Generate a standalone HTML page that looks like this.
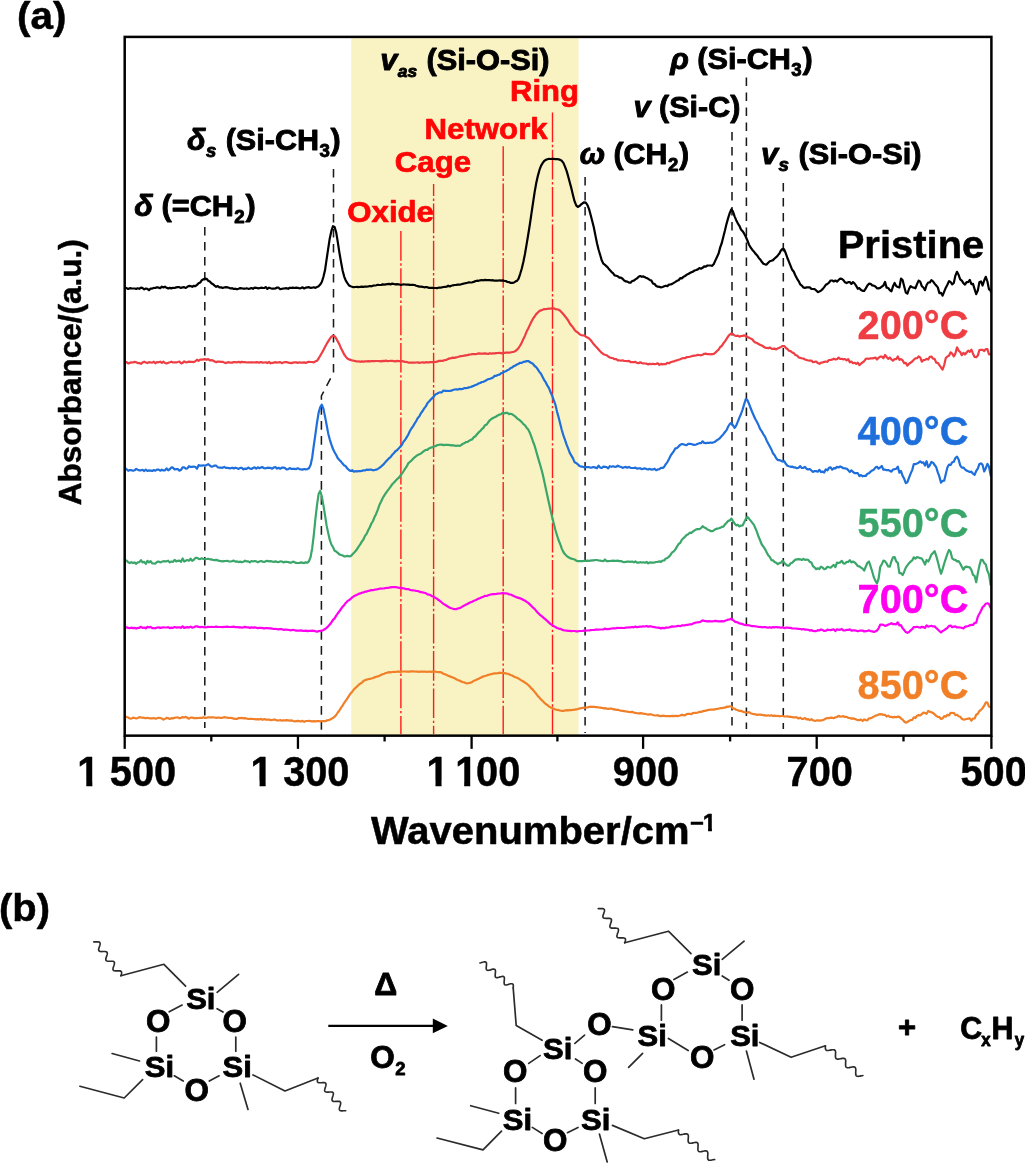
<!DOCTYPE html>
<html lang="en">
<head>
<meta charset="utf-8">
<title>FTIR spectra and reaction scheme</title>
<style>
html,body{margin:0;padding:0;background:#fff;}
svg{display:block;font-family:"Liberation Sans", Arial, Helvetica, sans-serif;}
</style>
</head>
<body>
<svg width="1025" height="1166" viewBox="0 0 1025 1166">
<rect width="1025" height="1166" fill="#fff"/>
<rect x="351.2" y="36.9" width="227.4" height="698.75" fill="#f9f3c4"/>
<line x1="204.8" y1="227" x2="204.8" y2="728" stroke="#1a1a1a" stroke-width="1.55" stroke-dasharray="8.6 6.4" stroke-dashoffset="0"/>
<path d="M333.5 169 L333.5 372.7 L321.4 396 L321.4 733" fill="none" stroke="#1a1a1a" stroke-width="1.55" stroke-dasharray="8.6 6.4"/>
<line x1="585.1" y1="177" x2="585.1" y2="733" stroke="#1a1a1a" stroke-width="1.55" stroke-dasharray="8.6 6.4" stroke-dashoffset="0"/>
<line x1="732.0" y1="132" x2="732.0" y2="729" stroke="#1a1a1a" stroke-width="1.55" stroke-dasharray="8.6 6.4" stroke-dashoffset="0"/>
<line x1="746.4" y1="77.5" x2="746.4" y2="729" stroke="#1a1a1a" stroke-width="1.55" stroke-dasharray="8.6 6.4" stroke-dashoffset="0"/>
<line x1="783.3" y1="183" x2="783.3" y2="729" stroke="#1a1a1a" stroke-width="1.55" stroke-dasharray="8.6 6.4" stroke-dashoffset="0"/>
<line x1="400.9" y1="231" x2="400.9" y2="734" stroke="#ff1a1a" stroke-width="1.4" stroke-dasharray="29.7 2.6 2.4 2.6" stroke-dashoffset="0"/>
<line x1="433.6" y1="184" x2="433.6" y2="734" stroke="#ff1a1a" stroke-width="1.4" stroke-dasharray="29.7 2.6 2.4 2.6" stroke-dashoffset="17.8"/>
<line x1="503.2" y1="146.2" x2="503.2" y2="734" stroke="#ff1a1a" stroke-width="1.4" stroke-dasharray="29.7 2.6 2.4 2.6" stroke-dashoffset="0"/>
<line x1="552.5" y1="112.5" x2="552.5" y2="734" stroke="#ff1a1a" stroke-width="1.4" stroke-dasharray="29.7 2.6 2.4 2.6" stroke-dashoffset="0"/>
<path d="M125.0 716.5 L126.6 717.0 L128.2 717.5 L129.8 718.5 L131.4 718.6 L133.0 717.7 L134.6 718.0 L136.2 718.5 L137.8 718.0 L139.4 717.1 L141.0 717.5 L142.6 717.7 L144.2 717.9 L145.8 718.3 L147.4 717.8 L149.0 718.2 L150.6 718.3 L152.2 718.3 L153.8 718.0 L155.4 718.6 L157.0 718.3 L158.6 717.8 L160.2 718.0 L161.8 718.5 L163.4 719.6 L165.0 718.9 L166.6 717.9 L168.2 718.2 L169.8 719.0 L171.4 718.1 L173.0 718.4 L174.6 717.8 L176.2 717.5 L177.8 717.4 L179.4 718.3 L181.0 717.9 L182.6 717.1 L184.2 717.5 L185.8 716.9 L187.4 717.7 L189.0 718.7 L190.6 717.6 L192.2 717.5 L193.8 718.1 L195.4 718.1 L197.0 718.1 L198.6 718.0 L200.2 717.8 L201.8 718.0 L203.4 717.2 L205.0 717.9 L206.6 717.8 L208.2 717.3 L209.8 717.3 L211.4 717.3 L213.0 717.4 L214.6 717.5 L216.2 717.8 L217.8 717.7 L219.4 717.6 L221.0 718.0 L222.6 717.6 L224.2 717.2 L225.8 717.5 L227.4 717.6 L229.0 718.0 L230.6 717.8 L232.2 718.1 L233.8 718.7 L235.4 718.9 L237.0 718.9 L238.6 718.1 L240.2 718.1 L241.8 717.9 L243.4 718.3 L245.0 718.1 L246.6 718.5 L248.2 719.0 L249.8 718.8 L251.4 718.8 L253.0 719.0 L254.6 719.1 L256.2 719.3 L257.8 719.1 L259.4 719.5 L261.0 718.8 L262.6 719.9 L264.2 719.0 L265.8 719.7 L267.4 719.7 L269.0 719.5 L270.6 720.1 L272.2 720.0 L273.8 719.7 L275.4 719.7 L277.0 720.4 L278.6 720.5 L280.2 720.0 L281.8 720.7 L283.4 720.4 L285.0 720.3 L286.6 720.2 L288.2 720.4 L289.8 720.6 L291.4 720.3 L293.0 721.0 L294.6 721.3 L296.2 721.1 L297.8 720.9 L299.4 721.1 L301.0 721.5 L302.6 720.9 L304.2 721.9 L305.8 721.0 L307.4 721.0 L309.0 720.9 L310.6 721.1 L312.2 721.4 L313.8 721.2 L315.4 721.3 L317.0 721.2 L318.6 721.2 L320.2 721.3 L321.8 721.1 L323.4 721.2 L325.0 721.2 L326.6 720.6 L328.2 720.1 L329.8 719.7 L331.4 718.8 L333.0 718.0 L334.6 716.7 L336.2 715.0 L337.8 712.5 L339.4 710.4 L341.0 707.9 L342.6 705.7 L344.2 702.8 L345.8 700.6 L347.4 698.4 L349.0 695.8 L350.6 693.4 L352.2 691.7 L353.8 689.6 L355.4 687.9 L357.0 686.6 L358.6 684.9 L360.2 683.6 L361.8 682.7 L363.4 681.1 L365.0 680.3 L366.6 679.6 L368.2 679.2 L369.8 678.8 L371.4 678.5 L373.0 678.0 L374.6 677.4 L376.2 676.8 L377.8 676.4 L379.4 675.7 L381.0 674.9 L382.6 674.3 L384.2 673.7 L385.8 673.0 L387.4 672.7 L389.0 672.1 L390.6 672.3 L392.2 672.0 L393.8 671.8 L395.4 672.0 L397.0 671.7 L398.6 671.6 L400.2 671.8 L401.8 671.6 L403.4 671.5 L405.0 671.5 L406.6 671.6 L408.2 671.7 L409.8 671.6 L411.4 671.4 L413.0 671.4 L414.6 671.5 L416.2 671.6 L417.8 671.5 L419.4 671.8 L421.0 671.5 L422.6 671.7 L424.2 671.5 L425.8 671.7 L427.4 671.8 L429.0 671.5 L430.6 671.8 L432.2 671.7 L433.8 671.7 L435.4 671.7 L437.0 672.0 L438.6 672.1 L440.2 672.1 L441.8 672.8 L443.4 673.7 L445.0 674.3 L446.6 675.1 L448.2 675.8 L449.8 676.4 L451.4 676.9 L453.0 677.6 L454.6 678.2 L456.2 679.3 L457.8 680.0 L459.4 680.6 L461.0 681.4 L462.6 682.0 L464.2 682.4 L465.8 683.1 L467.4 683.3 L469.0 683.0 L470.6 682.7 L472.2 681.9 L473.8 680.8 L475.4 680.3 L477.0 679.5 L478.6 678.8 L480.2 677.9 L481.8 677.3 L483.4 676.3 L485.0 676.0 L486.6 675.5 L488.2 674.9 L489.8 674.5 L491.4 674.1 L493.0 673.7 L494.6 673.4 L496.2 673.3 L497.8 673.1 L499.4 672.7 L501.0 672.9 L502.6 673.0 L504.2 673.1 L505.8 673.4 L507.4 673.8 L509.0 674.3 L510.6 675.0 L512.2 675.5 L513.8 676.5 L515.4 677.2 L517.0 677.8 L518.6 678.6 L520.2 679.6 L521.8 680.7 L523.4 681.5 L525.0 682.6 L526.6 683.7 L528.2 685.0 L529.8 686.6 L531.4 688.4 L533.0 689.9 L534.6 691.9 L536.2 693.8 L537.8 695.9 L539.4 697.6 L541.0 699.5 L542.6 700.9 L544.2 702.6 L545.8 704.0 L547.4 705.1 L549.0 706.5 L550.6 707.4 L552.2 708.1 L553.8 708.8 L555.4 709.5 L557.0 709.8 L558.6 710.1 L560.2 710.5 L561.8 710.8 L563.4 710.9 L565.0 710.5 L566.6 710.2 L568.2 710.3 L569.8 710.1 L571.4 710.2 L573.0 709.8 L574.6 709.6 L576.2 709.3 L577.8 709.1 L579.4 708.4 L581.0 708.3 L582.6 707.8 L584.2 707.6 L585.8 707.6 L587.4 707.4 L589.0 707.0 L590.6 706.7 L592.2 707.0 L593.8 706.7 L595.4 707.1 L597.0 707.0 L598.6 707.5 L600.2 707.6 L601.8 707.9 L603.4 708.3 L605.0 708.1 L606.6 708.6 L608.2 708.8 L609.8 708.7 L611.4 708.6 L613.0 709.3 L614.6 709.2 L616.2 710.0 L617.8 709.7 L619.4 710.3 L621.0 710.6 L622.6 710.8 L624.2 711.1 L625.8 711.5 L627.4 711.7 L629.0 712.0 L630.6 712.1 L632.2 711.8 L633.8 712.6 L635.4 712.8 L637.0 713.2 L638.6 713.5 L640.2 713.2 L641.8 713.4 L643.4 713.7 L645.0 713.8 L646.6 714.2 L648.2 714.6 L649.8 714.2 L651.4 714.5 L653.0 715.0 L654.6 715.3 L656.2 715.5 L657.8 715.2 L659.4 715.9 L661.0 716.2 L662.6 715.7 L664.2 715.9 L665.8 716.1 L667.4 716.2 L669.0 716.1 L670.6 716.2 L672.2 715.9 L673.8 716.1 L675.4 715.7 L677.0 716.1 L678.6 715.8 L680.2 715.5 L681.8 714.8 L683.4 715.1 L685.0 715.4 L686.6 714.2 L688.2 713.9 L689.8 713.8 L691.4 714.2 L693.0 713.0 L694.6 712.8 L696.2 712.8 L697.8 712.5 L699.4 711.9 L701.0 711.9 L702.6 711.4 L704.2 710.9 L705.8 710.8 L707.4 710.1 L709.0 709.8 L710.6 709.7 L712.2 709.7 L713.8 709.7 L715.4 709.1 L717.0 708.9 L718.6 708.6 L720.2 708.2 L721.8 708.1 L723.4 707.7 L725.0 707.7 L726.6 706.7 L728.2 706.8 L729.8 706.4 L731.4 706.5 L733.0 708.2 L734.6 708.8 L736.2 709.8 L737.8 710.2 L739.4 710.9 L741.0 710.8 L742.6 711.6 L744.2 712.1 L745.8 712.5 L747.4 712.4 L749.0 712.1 L750.6 713.2 L752.2 713.7 L753.8 714.2 L755.4 714.3 L757.0 714.9 L758.6 714.5 L760.2 714.6 L761.8 714.8 L763.4 715.3 L765.0 715.2 L766.6 715.8 L768.2 715.3 L769.8 715.7 L771.4 715.2 L773.0 716.0 L774.6 715.6 L776.2 716.0 L777.8 715.9 L779.4 716.3 L781.0 716.0 L782.6 716.0 L784.2 716.5 L785.8 716.5 L787.4 716.4 L789.0 716.8 L790.6 716.7 L792.2 717.2 L793.8 717.4 L795.4 717.4 L797.0 717.3 L798.6 718.5 L800.2 717.7 L801.8 718.8 L803.4 718.9 L805.0 718.0 L806.6 719.5 L808.2 719.1 L809.8 720.1 L811.4 719.2 L813.0 720.2 L814.6 720.8 L816.2 720.6 L817.8 720.2 L819.4 720.6 L821.0 720.3 L822.6 720.1 L824.2 719.5 L825.8 718.5 L827.4 718.0 L829.0 718.2 L830.6 717.6 L832.2 717.8 L833.8 718.2 L835.4 717.3 L837.0 717.0 L838.6 715.8 L840.2 716.7 L841.8 716.5 L843.4 716.2 L845.0 716.9 L846.6 716.9 L848.2 717.8 L849.8 718.0 L851.4 718.6 L853.0 718.4 L854.6 718.9 L856.2 719.5 L857.8 720.2 L859.4 720.1 L861.0 719.5 L862.6 721.0 L864.2 719.4 L865.8 720.1 L867.4 720.3 L869.0 718.3 L870.6 718.3 L872.2 717.5 L873.8 716.6 L875.4 715.6 L877.0 715.3 L878.6 714.6 L880.2 714.1 L881.8 714.3 L883.4 714.9 L885.0 714.9 L886.6 716.4 L888.2 715.7 L889.8 716.8 L891.4 716.9 L893.0 717.5 L894.6 716.9 L896.2 717.3 L897.8 716.6 L899.4 716.9 L901.0 718.4 L902.6 719.6 L904.2 721.5 L905.8 722.6 L907.4 722.0 L909.0 720.9 L910.6 720.1 L912.2 719.9 L913.8 717.3 L915.4 718.1 L917.0 715.7 L918.6 715.1 L920.2 715.4 L921.8 714.1 L923.4 712.5 L925.0 713.0 L926.6 713.8 L928.2 711.0 L929.8 711.9 L931.4 712.2 L933.0 712.9 L934.6 714.4 L936.2 715.9 L937.8 716.8 L939.4 717.1 L941.0 718.9 L942.6 718.4 L944.2 716.1 L945.8 716.7 L947.4 714.8 L949.0 715.4 L950.6 712.8 L952.2 713.0 L953.8 712.9 L955.4 715.2 L957.0 714.7 L958.6 716.2 L960.2 716.7 L961.8 718.7 L963.4 719.6 L965.0 719.4 L966.6 719.0 L968.2 718.6 L969.8 718.3 L971.4 720.7 L973.0 718.6 L974.6 718.5 L976.2 714.7 L977.8 713.7 L979.4 711.0 L981.0 709.8 L982.6 708.2 L984.2 705.7 L985.8 702.4 L987.4 702.6 L989.0 706.6 L990.6 707.3 L991.0 707.2" fill="none" stroke="#f07f27" stroke-width="2.2" stroke-linejoin="round" stroke-linecap="butt"/>
<path d="M125.0 627.7 L126.6 627.3 L128.2 627.9 L129.8 628.2 L131.4 627.6 L133.0 628.1 L134.6 627.8 L136.2 628.6 L137.8 627.9 L139.4 627.8 L141.0 626.8 L142.6 627.9 L144.2 627.5 L145.8 628.4 L147.4 626.8 L149.0 627.5 L150.6 626.9 L152.2 628.1 L153.8 628.2 L155.4 628.3 L157.0 627.5 L158.6 627.4 L160.2 627.9 L161.8 627.6 L163.4 627.4 L165.0 627.5 L166.6 627.5 L168.2 627.2 L169.8 628.1 L171.4 627.6 L173.0 627.9 L174.6 626.9 L176.2 627.6 L177.8 627.4 L179.4 627.3 L181.0 627.9 L182.6 626.3 L184.2 627.9 L185.8 627.4 L187.4 627.1 L189.0 627.5 L190.6 626.6 L192.2 627.7 L193.8 627.3 L195.4 626.4 L197.0 626.4 L198.6 626.9 L200.2 627.1 L201.8 626.8 L203.4 627.2 L205.0 627.3 L206.6 627.2 L208.2 626.9 L209.8 627.0 L211.4 626.9 L213.0 627.0 L214.6 626.9 L216.2 626.7 L217.8 626.9 L219.4 627.0 L221.0 627.0 L222.6 627.1 L224.2 626.9 L225.8 626.8 L227.4 626.7 L229.0 627.0 L230.6 627.0 L232.2 626.8 L233.8 626.6 L235.4 627.2 L237.0 627.0 L238.6 627.4 L240.2 627.2 L241.8 627.6 L243.4 627.4 L245.0 626.9 L246.6 627.3 L248.2 627.3 L249.8 627.9 L251.4 627.3 L253.0 627.6 L254.6 627.4 L256.2 627.7 L257.8 628.2 L259.4 627.9 L261.0 627.8 L262.6 628.1 L264.2 628.4 L265.8 628.1 L267.4 628.0 L269.0 628.3 L270.6 628.4 L272.2 628.7 L273.8 629.0 L275.4 628.8 L277.0 629.2 L278.6 629.4 L280.2 629.1 L281.8 629.2 L283.4 629.8 L285.0 629.6 L286.6 629.7 L288.2 629.8 L289.8 630.2 L291.4 630.3 L293.0 629.8 L294.6 630.2 L296.2 630.6 L297.8 630.7 L299.4 630.7 L301.0 630.4 L302.6 630.8 L304.2 630.8 L305.8 630.6 L307.4 631.1 L309.0 630.8 L310.6 630.8 L312.2 630.7 L313.8 630.9 L315.4 631.2 L317.0 631.8 L318.6 631.1 L320.2 630.9 L321.8 630.6 L323.4 630.0 L325.0 629.0 L326.6 627.9 L328.2 626.3 L329.8 624.5 L331.4 622.4 L333.0 619.9 L334.6 618.4 L336.2 615.6 L337.8 613.3 L339.4 611.3 L341.0 609.0 L342.6 606.7 L344.2 604.9 L345.8 602.9 L347.4 601.2 L349.0 600.1 L350.6 599.0 L352.2 597.4 L353.8 596.3 L355.4 595.5 L357.0 594.7 L358.6 593.9 L360.2 593.4 L361.8 592.7 L363.4 592.5 L365.0 591.6 L366.6 591.6 L368.2 590.9 L369.8 590.6 L371.4 590.0 L373.0 590.2 L374.6 589.7 L376.2 589.5 L377.8 589.2 L379.4 588.7 L381.0 588.7 L382.6 588.5 L384.2 588.3 L385.8 588.0 L387.4 587.8 L389.0 587.7 L390.6 587.4 L392.2 587.1 L393.8 587.2 L395.4 587.2 L397.0 587.3 L398.6 587.8 L400.2 587.8 L401.8 588.1 L403.4 588.4 L405.0 588.7 L406.6 589.2 L408.2 589.1 L409.8 589.8 L411.4 590.1 L413.0 590.3 L414.6 590.5 L416.2 590.8 L417.8 591.0 L419.4 591.6 L421.0 592.2 L422.6 592.4 L424.2 592.8 L425.8 593.2 L427.4 594.3 L429.0 594.6 L430.6 595.3 L432.2 596.2 L433.8 596.8 L435.4 597.9 L437.0 598.8 L438.6 600.0 L440.2 601.2 L441.8 602.5 L443.4 603.9 L445.0 604.8 L446.6 605.8 L448.2 606.8 L449.8 607.7 L451.4 608.3 L453.0 608.7 L454.6 609.2 L456.2 609.1 L457.8 608.5 L459.4 608.2 L461.0 607.4 L462.6 606.4 L464.2 605.6 L465.8 604.6 L467.4 604.0 L469.0 603.0 L470.6 602.3 L472.2 601.8 L473.8 600.7 L475.4 600.3 L477.0 599.4 L478.6 598.6 L480.2 598.0 L481.8 597.2 L483.4 596.8 L485.0 595.8 L486.6 596.0 L488.2 595.3 L489.8 594.7 L491.4 594.3 L493.0 594.2 L494.6 594.1 L496.2 594.0 L497.8 593.7 L499.4 593.5 L501.0 593.4 L502.6 593.0 L504.2 593.3 L505.8 593.3 L507.4 593.5 L509.0 594.4 L510.6 594.5 L512.2 595.2 L513.8 596.0 L515.4 596.7 L517.0 597.4 L518.6 597.9 L520.2 598.4 L521.8 599.0 L523.4 600.0 L525.0 600.6 L526.6 601.9 L528.2 602.9 L529.8 604.4 L531.4 605.9 L533.0 607.6 L534.6 608.9 L536.2 610.9 L537.8 612.7 L539.4 614.3 L541.0 615.7 L542.6 616.9 L544.2 618.3 L545.8 619.7 L547.4 621.1 L549.0 622.6 L550.6 624.1 L552.2 625.1 L553.8 626.1 L555.4 627.1 L557.0 627.9 L558.6 628.6 L560.2 628.8 L561.8 629.6 L563.4 630.1 L565.0 630.5 L566.6 630.7 L568.2 630.9 L569.8 630.9 L571.4 631.1 L573.0 631.0 L574.6 631.0 L576.2 631.3 L577.8 631.3 L579.4 631.0 L581.0 631.0 L582.6 630.9 L584.2 630.6 L585.8 630.6 L587.4 630.5 L589.0 630.5 L590.6 630.2 L592.2 630.0 L593.8 630.0 L595.4 629.6 L597.0 629.5 L598.6 629.6 L600.2 629.5 L601.8 629.5 L603.4 629.5 L605.0 628.5 L606.6 629.2 L608.2 629.1 L609.8 628.8 L611.4 628.5 L613.0 628.3 L614.6 628.3 L616.2 628.1 L617.8 627.8 L619.4 628.0 L621.0 627.8 L622.6 628.0 L624.2 628.0 L625.8 627.7 L627.4 627.5 L629.0 627.3 L630.6 627.3 L632.2 627.0 L633.8 627.3 L635.4 626.6 L637.0 627.1 L638.6 626.9 L640.2 626.6 L641.8 626.6 L643.4 626.4 L645.0 626.5 L646.6 626.0 L648.2 626.7 L649.8 626.2 L651.4 626.5 L653.0 626.9 L654.6 627.2 L656.2 627.5 L657.8 627.7 L659.4 627.9 L661.0 628.4 L662.6 627.9 L664.2 628.3 L665.8 627.6 L667.4 627.7 L669.0 627.5 L670.6 626.9 L672.2 626.4 L673.8 626.6 L675.4 626.5 L677.0 626.1 L678.6 625.8 L680.2 626.2 L681.8 625.4 L683.4 625.3 L685.0 625.3 L686.6 624.9 L688.2 624.8 L689.8 624.3 L691.4 624.4 L693.0 623.6 L694.6 622.9 L696.2 622.5 L697.8 622.3 L699.4 622.2 L701.0 621.5 L702.6 620.4 L704.2 620.9 L705.8 621.1 L707.4 621.4 L709.0 621.2 L710.6 621.3 L712.2 621.3 L713.8 621.2 L715.4 620.9 L717.0 621.1 L718.6 621.3 L720.2 621.4 L721.8 621.2 L723.4 621.5 L725.0 620.7 L726.6 620.3 L728.2 619.6 L729.8 619.4 L731.4 618.5 L733.0 620.0 L734.6 621.4 L736.2 622.2 L737.8 622.3 L739.4 623.5 L741.0 623.6 L742.6 624.1 L744.2 624.7 L745.8 625.2 L747.4 625.0 L749.0 625.3 L750.6 625.8 L752.2 626.2 L753.8 626.2 L755.4 626.3 L757.0 626.5 L758.6 627.0 L760.2 626.9 L761.8 627.3 L763.4 627.0 L765.0 627.1 L766.6 627.4 L768.2 627.6 L769.8 627.2 L771.4 627.8 L773.0 627.1 L774.6 627.3 L776.2 627.0 L777.8 627.4 L779.4 627.4 L781.0 627.8 L782.6 627.3 L784.2 628.1 L785.8 627.7 L787.4 627.5 L789.0 627.8 L790.6 627.8 L792.2 628.5 L793.8 628.5 L795.4 628.5 L797.0 628.7 L798.6 628.8 L800.2 629.0 L801.8 629.4 L803.4 629.0 L805.0 629.6 L806.6 629.5 L808.2 629.8 L809.8 630.6 L811.4 630.0 L813.0 631.0 L814.6 631.1 L816.2 631.1 L817.8 630.2 L819.4 630.5 L821.0 629.4 L822.6 630.1 L824.2 630.9 L825.8 630.7 L827.4 629.7 L829.0 630.0 L830.6 630.2 L832.2 629.6 L833.8 629.4 L835.4 631.1 L837.0 629.3 L838.6 629.8 L840.2 629.7 L841.8 629.0 L843.4 630.4 L845.0 630.5 L846.6 629.8 L848.2 630.0 L849.8 629.3 L851.4 630.6 L853.0 630.3 L854.6 630.4 L856.2 630.7 L857.8 631.2 L859.4 630.7 L861.0 630.6 L862.6 630.5 L864.2 631.5 L865.8 631.1 L867.4 630.8 L869.0 630.4 L870.6 631.1 L872.2 631.3 L873.8 632.0 L875.4 631.4 L877.0 630.5 L878.6 628.3 L880.2 624.7 L881.8 624.6 L883.4 624.9 L885.0 625.9 L886.6 625.4 L888.2 624.6 L889.8 624.0 L891.4 623.2 L893.0 624.2 L894.6 624.2 L896.2 624.3 L897.8 622.3 L899.4 625.4 L901.0 625.2 L902.6 628.3 L904.2 630.1 L905.8 632.0 L907.4 632.9 L909.0 632.0 L910.6 630.4 L912.2 629.1 L913.8 627.0 L915.4 627.2 L917.0 626.7 L918.6 627.3 L920.2 627.7 L921.8 626.8 L923.4 627.1 L925.0 627.9 L926.6 625.4 L928.2 626.6 L929.8 626.2 L931.4 625.8 L933.0 626.5 L934.6 626.4 L936.2 628.0 L937.8 629.5 L939.4 631.0 L941.0 632.5 L942.6 630.9 L944.2 630.2 L945.8 629.0 L947.4 627.8 L949.0 625.9 L950.6 625.6 L952.2 627.1 L953.8 626.6 L955.4 626.4 L957.0 627.5 L958.6 627.3 L960.2 627.5 L961.8 627.8 L963.4 628.4 L965.0 626.9 L966.6 626.3 L968.2 626.0 L969.8 625.4 L971.4 624.8 L973.0 625.0 L974.6 622.9 L976.2 622.7 L977.8 616.8 L979.4 613.8 L981.0 610.8 L982.6 607.2 L984.2 605.8 L985.8 603.7 L987.4 603.3 L989.0 604.1 L990.6 607.8 L991.0 606.2" fill="none" stroke="#ff00f0" stroke-width="2.2" stroke-linejoin="round" stroke-linecap="butt"/>
<path d="M125.0 560.7 L126.6 560.6 L128.2 562.3 L129.8 563.1 L131.4 562.1 L133.0 563.1 L134.6 562.4 L136.2 563.8 L137.8 562.3 L139.4 562.1 L141.0 560.1 L142.6 562.5 L144.2 561.9 L145.8 563.9 L147.4 560.8 L149.0 562.4 L150.6 561.1 L152.2 563.4 L153.8 563.5 L155.4 563.6 L157.0 561.9 L158.6 561.5 L160.2 562.4 L161.8 561.7 L163.4 561.2 L165.0 561.4 L166.6 561.3 L168.2 560.7 L169.8 562.4 L171.4 561.5 L173.0 561.9 L174.6 559.9 L176.2 561.4 L177.8 560.8 L179.4 560.6 L181.0 561.8 L182.6 558.5 L184.2 561.6 L185.8 560.6 L187.4 560.0 L189.0 560.7 L190.6 558.7 L192.2 560.8 L193.8 559.9 L195.4 557.9 L197.0 557.9 L198.6 558.8 L200.2 559.1 L201.8 558.3 L203.4 559.0 L205.0 559.2 L206.6 559.0 L208.2 558.8 L209.8 559.3 L211.4 559.4 L213.0 560.0 L214.6 560.1 L216.2 559.9 L217.8 560.4 L219.4 560.9 L221.0 561.1 L222.6 561.4 L224.2 561.1 L225.8 561.0 L227.4 560.8 L229.0 561.5 L230.6 561.5 L232.2 561.1 L233.8 560.6 L235.4 561.7 L237.0 561.4 L238.6 562.1 L240.2 561.6 L241.8 562.3 L243.4 561.8 L245.0 560.7 L246.6 561.4 L248.2 561.3 L249.8 562.4 L251.4 561.0 L253.0 561.5 L254.6 561.0 L256.2 561.4 L257.8 562.3 L259.4 561.5 L261.0 561.0 L262.6 561.6 L264.2 561.9 L265.8 561.2 L267.4 560.9 L269.0 561.3 L270.6 561.2 L272.2 561.5 L273.8 562.0 L275.4 561.4 L277.0 561.9 L278.6 562.1 L280.2 561.4 L281.8 561.5 L283.4 562.4 L285.0 561.9 L286.6 561.9 L288.2 562.0 L289.8 562.7 L291.4 562.6 L293.0 561.6 L294.6 562.2 L296.2 562.9 L297.8 563.0 L299.4 563.0 L301.0 562.4 L302.6 562.9 L304.2 562.9 L305.8 562.4 L307.4 562.7 L309.0 561.1 L310.6 557.0 L312.2 548.2 L313.8 535.0 L315.4 518.8 L317.0 505.2 L318.6 494.1 L320.2 491.0 L321.8 496.4 L323.4 505.1 L325.0 515.1 L326.6 525.4 L328.2 533.1 L329.8 539.9 L331.4 544.5 L333.0 547.1 L334.6 550.8 L336.2 551.6 L337.8 552.9 L339.4 554.4 L341.0 555.0 L342.6 555.3 L344.2 556.4 L345.8 556.3 L347.4 555.9 L349.0 556.3 L350.6 556.2 L352.2 554.6 L353.8 552.9 L355.4 551.2 L357.0 549.2 L358.6 546.6 L360.2 544.4 L361.8 541.6 L363.4 539.5 L365.0 535.9 L366.6 533.9 L368.2 530.3 L369.8 527.3 L371.4 523.5 L373.0 521.0 L374.6 516.9 L376.2 513.7 L377.8 509.6 L379.4 505.1 L381.0 501.8 L382.6 498.3 L384.2 495.6 L385.8 493.1 L387.4 490.9 L389.0 488.9 L390.6 486.7 L392.2 484.3 L393.8 482.7 L395.4 480.9 L397.0 479.2 L398.6 478.0 L400.2 475.8 L401.8 473.9 L403.4 471.5 L405.0 468.9 L406.6 466.7 L408.2 463.4 L409.8 462.0 L411.4 460.6 L413.0 458.9 L414.6 457.3 L416.2 456.1 L417.8 454.9 L419.4 454.2 L421.0 453.5 L422.6 452.2 L424.2 450.9 L425.8 449.8 L427.4 449.8 L429.0 448.4 L430.6 447.7 L432.2 447.4 L433.8 446.5 L435.4 446.2 L437.0 445.2 L438.6 444.9 L440.2 444.5 L441.8 444.6 L443.4 445.1 L445.0 444.9 L446.6 444.8 L448.2 444.9 L449.8 445.1 L451.4 445.3 L453.0 445.2 L454.6 445.7 L456.2 445.8 L457.8 445.5 L459.4 445.9 L461.0 445.2 L462.6 444.0 L464.2 443.3 L465.8 442.2 L467.4 442.0 L469.0 440.9 L470.6 439.9 L472.2 439.4 L473.8 437.2 L475.4 436.2 L477.0 434.2 L478.6 432.4 L480.2 431.1 L481.8 429.2 L483.4 427.8 L485.0 425.2 L486.6 424.6 L488.2 422.3 L489.8 420.3 L491.4 419.0 L493.0 418.0 L494.6 417.3 L496.2 416.5 L497.8 415.4 L499.4 414.6 L501.0 414.2 L502.6 413.0 L504.2 413.4 L505.8 412.9 L507.4 412.9 L509.0 414.1 L510.6 413.7 L512.2 414.3 L513.8 415.4 L515.4 416.6 L517.0 418.3 L518.6 419.4 L520.2 420.7 L521.8 422.1 L523.4 424.2 L525.0 425.4 L526.6 427.7 L528.2 429.4 L529.8 432.7 L531.4 436.9 L533.0 441.5 L534.6 445.6 L536.2 451.2 L537.8 456.9 L539.4 462.4 L541.0 467.8 L542.6 473.7 L544.2 481.0 L545.8 488.6 L547.4 496.0 L549.0 503.3 L550.6 510.5 L552.2 517.2 L553.8 523.8 L555.4 530.0 L557.0 535.3 L558.6 540.3 L560.2 544.1 L561.8 548.6 L563.4 552.0 L565.0 554.3 L566.6 555.8 L568.2 557.1 L569.8 557.9 L571.4 558.7 L573.0 559.0 L574.6 559.5 L576.2 560.6 L577.8 561.2 L579.4 561.0 L581.0 561.1 L582.6 561.2 L584.2 560.8 L585.8 560.8 L587.4 560.7 L589.0 560.9 L590.6 560.6 L592.2 560.3 L593.8 560.4 L595.4 560.0 L597.0 560.0 L598.6 560.5 L600.2 560.6 L601.8 561.0 L603.4 561.2 L605.0 559.5 L606.6 561.2 L608.2 561.2 L609.8 561.0 L611.4 560.8 L613.0 560.7 L614.6 560.9 L616.2 560.9 L617.8 560.6 L619.4 561.2 L621.0 561.1 L622.6 561.8 L624.2 562.1 L625.8 561.9 L627.4 561.7 L629.0 561.6 L630.6 561.9 L632.2 561.5 L633.8 562.4 L635.4 561.3 L637.0 562.6 L638.6 562.6 L640.2 562.2 L641.8 562.5 L643.4 562.3 L645.0 562.7 L646.6 561.9 L648.2 563.3 L649.8 562.4 L651.4 562.6 L653.0 562.6 L654.6 562.4 L656.2 562.0 L657.8 561.8 L659.4 561.4 L661.0 561.9 L662.6 560.5 L664.2 560.5 L665.8 558.5 L667.4 558.0 L669.0 556.7 L670.6 554.7 L672.2 552.4 L673.8 551.3 L675.4 549.4 L677.0 546.6 L678.6 544.0 L680.2 542.9 L681.8 539.7 L683.4 538.2 L685.0 536.8 L686.6 535.0 L688.2 534.2 L689.8 532.7 L691.4 532.9 L693.0 531.5 L694.6 530.4 L696.2 529.4 L697.8 529.1 L699.4 529.1 L701.0 528.1 L702.6 526.2 L704.2 527.4 L705.8 528.1 L707.4 529.5 L709.0 530.0 L710.6 531.1 L712.2 531.2 L713.8 530.5 L715.4 529.2 L717.0 528.6 L718.6 528.3 L720.2 527.9 L721.8 526.9 L723.4 526.7 L725.0 524.4 L726.6 522.8 L728.2 520.9 L729.8 520.4 L731.4 518.6 L733.0 521.2 L734.6 523.5 L736.2 525.4 L737.8 524.8 L739.4 526.4 L741.0 525.6 L742.6 525.4 L744.2 522.3 L745.8 519.0 L747.4 516.9 L749.0 518.6 L750.6 520.6 L752.2 522.7 L753.8 524.6 L755.4 528.2 L757.0 532.2 L758.6 536.8 L760.2 540.5 L761.8 544.5 L763.4 546.6 L765.0 549.1 L766.6 552.2 L768.2 555.3 L769.8 557.0 L771.4 560.1 L773.0 560.4 L774.6 562.0 L776.2 562.8 L777.8 564.2 L779.4 563.1 L781.0 562.6 L782.6 560.6 L784.2 562.7 L785.8 564.4 L787.4 565.7 L789.0 565.7 L790.6 563.3 L792.2 562.8 L793.8 561.1 L795.4 559.6 L797.0 559.3 L798.6 559.1 L800.2 559.3 L801.8 560.0 L803.4 558.9 L805.0 559.9 L806.6 559.5 L808.2 559.8 L809.8 561.9 L811.4 562.5 L813.0 566.1 L814.6 567.5 L816.2 569.2 L817.8 568.3 L819.4 569.0 L821.0 566.6 L822.6 567.7 L824.2 569.1 L825.8 568.7 L827.4 566.8 L829.0 567.3 L830.6 567.7 L832.2 566.2 L833.8 564.9 L835.4 567.1 L837.0 562.7 L838.6 563.0 L840.2 562.4 L841.8 560.8 L843.4 563.4 L845.0 563.6 L846.6 561.9 L848.2 562.0 L849.8 560.2 L851.4 562.4 L853.0 561.6 L854.6 562.4 L856.2 564.0 L857.8 566.2 L859.4 566.3 L861.0 567.6 L862.6 568.6 L864.2 570.7 L865.8 566.5 L867.4 562.8 L869.0 561.5 L870.6 566.4 L872.2 571.5 L873.8 577.3 L875.4 580.9 L877.0 583.3 L878.6 578.6 L880.2 567.0 L881.8 564.2 L883.4 560.6 L885.0 561.3 L886.6 563.4 L888.2 566.5 L889.8 566.7 L891.4 561.2 L893.0 557.4 L894.6 557.0 L896.2 561.4 L897.8 562.8 L899.4 573.1 L901.0 573.1 L902.6 575.1 L904.2 571.7 L905.8 567.6 L907.4 565.3 L909.0 563.2 L910.6 561.6 L912.2 560.4 L913.8 557.3 L915.4 558.6 L917.0 557.2 L918.6 557.5 L920.2 558.2 L921.8 558.5 L923.4 561.2 L925.0 564.6 L926.6 560.0 L928.2 561.5 L929.8 558.4 L931.4 554.6 L933.0 553.0 L934.6 551.1 L936.2 555.8 L937.8 561.6 L939.4 568.0 L941.0 573.8 L942.6 569.1 L944.2 563.5 L945.8 558.7 L947.4 553.8 L949.0 549.9 L950.6 552.0 L952.2 558.4 L953.8 559.6 L955.4 559.9 L957.0 561.4 L958.6 561.1 L960.2 563.5 L961.8 566.7 L963.4 569.6 L965.0 567.1 L966.6 566.6 L968.2 567.2 L969.8 567.4 L971.4 570.0 L973.0 574.9 L974.6 575.9 L976.2 582.2 L977.8 573.4 L979.4 565.6 L981.0 559.8 L982.6 559.9 L984.2 562.9 L985.8 564.6 L987.4 570.9 L989.0 574.4 L990.6 584.9 L991.0 582.8" fill="none" stroke="#3aa66a" stroke-width="2.2" stroke-linejoin="round" stroke-linecap="butt"/>
<path d="M125.0 468.2 L126.6 469.2 L128.2 470.8 L129.8 470.0 L131.4 470.2 L133.0 470.8 L134.6 470.3 L136.2 468.9 L137.8 469.8 L139.4 470.4 L141.0 470.3 L142.6 469.8 L144.2 471.0 L145.8 469.6 L147.4 471.0 L149.0 470.4 L150.6 470.6 L152.2 470.9 L153.8 470.1 L155.4 470.7 L157.0 469.6 L158.6 469.6 L160.2 470.7 L161.8 469.7 L163.4 470.4 L165.0 470.3 L166.6 468.4 L168.2 470.3 L169.8 469.3 L171.4 467.4 L173.0 467.7 L174.6 469.5 L176.2 469.2 L177.8 469.0 L179.4 470.7 L181.0 469.8 L182.6 467.3 L184.2 467.4 L185.8 468.6 L187.4 468.3 L189.0 466.2 L190.6 466.9 L192.2 466.9 L193.8 466.5 L195.4 467.0 L197.0 468.7 L198.6 465.1 L200.2 465.7 L201.8 465.6 L203.4 465.3 L205.0 465.8 L206.6 465.0 L208.2 464.1 L209.8 465.5 L211.4 466.6 L213.0 466.3 L214.6 465.5 L216.2 465.7 L217.8 467.2 L219.4 467.7 L221.0 467.6 L222.6 467.8 L224.2 466.9 L225.8 467.9 L227.4 467.9 L229.0 468.1 L230.6 468.3 L232.2 467.7 L233.8 468.5 L235.4 467.7 L237.0 468.3 L238.6 468.9 L240.2 467.9 L241.8 467.9 L243.4 469.4 L245.0 468.6 L246.6 468.8 L248.2 467.5 L249.8 468.5 L251.4 469.0 L253.0 468.0 L254.6 467.4 L256.2 468.6 L257.8 467.3 L259.4 468.2 L261.0 467.4 L262.6 467.2 L264.2 468.2 L265.8 468.3 L267.4 467.7 L269.0 467.9 L270.6 467.9 L272.2 468.7 L273.8 467.5 L275.4 467.0 L277.0 468.6 L278.6 467.8 L280.2 468.7 L281.8 467.7 L283.4 467.5 L285.0 468.1 L286.6 469.5 L288.2 469.2 L289.8 468.1 L291.4 468.9 L293.0 468.8 L294.6 468.9 L296.2 469.1 L297.8 468.3 L299.4 469.1 L301.0 469.3 L302.6 469.6 L304.2 469.0 L305.8 469.4 L307.4 469.1 L309.0 468.3 L310.6 464.9 L312.2 457.4 L313.8 445.5 L315.4 434.4 L317.0 422.7 L318.6 412.9 L320.2 407.3 L321.8 404.6 L323.4 408.6 L325.0 416.4 L326.6 424.8 L328.2 433.4 L329.8 439.6 L331.4 444.7 L333.0 449.0 L334.6 452.3 L336.2 455.0 L337.8 458.3 L339.4 460.0 L341.0 461.6 L342.6 463.6 L344.2 465.4 L345.8 466.3 L347.4 468.7 L349.0 470.0 L350.6 471.0 L352.2 470.2 L353.8 471.6 L355.4 471.2 L357.0 471.3 L358.6 471.1 L360.2 471.1 L361.8 470.9 L363.4 470.3 L365.0 470.5 L366.6 469.6 L368.2 469.9 L369.8 469.6 L371.4 469.7 L373.0 470.3 L374.6 470.0 L376.2 469.7 L377.8 468.9 L379.4 467.9 L381.0 466.6 L382.6 465.2 L384.2 463.6 L385.8 461.6 L387.4 460.0 L389.0 458.4 L390.6 457.0 L392.2 454.8 L393.8 453.3 L395.4 451.3 L397.0 450.3 L398.6 448.6 L400.2 446.7 L401.8 445.0 L403.4 441.7 L405.0 440.0 L406.6 437.4 L408.2 434.7 L409.8 431.2 L411.4 428.5 L413.0 426.4 L414.6 423.5 L416.2 421.1 L417.8 418.0 L419.4 416.3 L421.0 413.1 L422.6 411.0 L424.2 408.4 L425.8 406.4 L427.4 403.3 L429.0 401.6 L430.6 399.7 L432.2 398.1 L433.8 396.6 L435.4 394.4 L437.0 393.7 L438.6 392.8 L440.2 392.3 L441.8 392.4 L443.4 390.5 L445.0 390.8 L446.6 390.9 L448.2 391.0 L449.8 390.8 L451.4 390.6 L453.0 390.0 L454.6 389.5 L456.2 389.4 L457.8 389.6 L459.4 388.9 L461.0 389.2 L462.6 389.0 L464.2 388.1 L465.8 388.2 L467.4 387.9 L469.0 387.4 L470.6 387.0 L472.2 386.4 L473.8 385.8 L475.4 385.0 L477.0 384.5 L478.6 383.4 L480.2 383.0 L481.8 382.0 L483.4 381.8 L485.0 381.1 L486.6 380.0 L488.2 379.1 L489.8 378.8 L491.4 378.4 L493.0 377.5 L494.6 375.9 L496.2 375.8 L497.8 375.0 L499.4 374.7 L501.0 373.3 L502.6 372.8 L504.2 371.8 L505.8 371.3 L507.4 370.2 L509.0 369.5 L510.6 368.1 L512.2 367.4 L513.8 366.1 L515.4 365.5 L517.0 364.4 L518.6 363.7 L520.2 362.8 L521.8 362.9 L523.4 361.9 L525.0 361.7 L526.6 361.1 L528.2 361.0 L529.8 362.0 L531.4 363.0 L533.0 363.8 L534.6 366.0 L536.2 367.1 L537.8 369.4 L539.4 371.9 L541.0 373.8 L542.6 377.0 L544.2 380.1 L545.8 382.4 L547.4 385.7 L549.0 388.1 L550.6 392.3 L552.2 395.9 L553.8 400.3 L555.4 404.7 L557.0 411.6 L558.6 417.3 L560.2 423.7 L561.8 430.0 L563.4 435.4 L565.0 439.8 L566.6 444.6 L568.2 448.6 L569.8 452.9 L571.4 455.6 L573.0 458.4 L574.6 462.3 L576.2 463.0 L577.8 464.3 L579.4 465.9 L581.0 466.6 L582.6 466.7 L584.2 467.3 L585.8 467.1 L587.4 467.2 L589.0 467.2 L590.6 467.6 L592.2 467.4 L593.8 467.0 L595.4 467.6 L597.0 468.2 L598.6 465.6 L600.2 467.6 L601.8 467.8 L603.4 466.7 L605.0 466.9 L606.6 467.1 L608.2 468.3 L609.8 466.2 L611.4 466.8 L613.0 466.3 L614.6 466.8 L616.2 466.7 L617.8 465.7 L619.4 466.5 L621.0 466.9 L622.6 467.9 L624.2 467.3 L625.8 466.9 L627.4 467.7 L629.0 466.9 L630.6 467.9 L632.2 468.0 L633.8 468.0 L635.4 467.6 L637.0 468.7 L638.6 468.3 L640.2 468.3 L641.8 469.2 L643.4 468.7 L645.0 468.4 L646.6 469.1 L648.2 469.4 L649.8 468.9 L651.4 469.6 L653.0 469.4 L654.6 468.7 L656.2 470.2 L657.8 469.4 L659.4 469.1 L661.0 467.9 L662.6 468.0 L664.2 466.8 L665.8 464.1 L667.4 462.1 L669.0 459.0 L670.6 455.7 L672.2 453.4 L673.8 451.1 L675.4 448.3 L677.0 448.1 L678.6 446.4 L680.2 444.9 L681.8 444.0 L683.4 444.3 L685.0 444.8 L686.6 445.1 L688.2 443.8 L689.8 443.9 L691.4 444.0 L693.0 444.7 L694.6 444.8 L696.2 444.5 L697.8 443.7 L699.4 443.2 L701.0 443.2 L702.6 441.3 L704.2 442.9 L705.8 443.2 L707.4 442.9 L709.0 442.9 L710.6 442.5 L712.2 442.8 L713.8 442.2 L715.4 441.4 L717.0 440.1 L718.6 439.2 L720.2 437.8 L721.8 435.9 L723.4 434.2 L725.0 432.0 L726.6 430.1 L728.2 426.5 L729.8 424.0 L731.4 422.9 L733.0 425.3 L734.6 427.9 L736.2 425.6 L737.8 421.6 L739.4 417.7 L741.0 414.0 L742.6 409.5 L744.2 404.1 L745.8 399.0 L747.4 400.2 L749.0 403.8 L750.6 408.0 L752.2 412.0 L753.8 415.7 L755.4 419.3 L757.0 422.0 L758.6 425.4 L760.2 429.2 L761.8 431.4 L763.4 434.3 L765.0 436.6 L766.6 440.4 L768.2 443.4 L769.8 446.4 L771.4 449.4 L773.0 453.3 L774.6 455.2 L776.2 458.3 L777.8 460.1 L779.4 460.1 L781.0 460.7 L782.6 461.6 L784.2 461.2 L785.8 463.8 L787.4 465.7 L789.0 466.3 L790.6 466.8 L792.2 466.6 L793.8 467.4 L795.4 467.4 L797.0 468.2 L798.6 467.8 L800.2 466.1 L801.8 468.0 L803.4 467.8 L805.0 466.9 L806.6 468.9 L808.2 469.5 L809.8 469.0 L811.4 470.5 L813.0 471.9 L814.6 471.1 L816.2 471.1 L817.8 471.7 L819.4 469.8 L821.0 472.1 L822.6 471.5 L824.2 472.5 L825.8 469.3 L827.4 470.4 L829.0 467.9 L830.6 467.3 L832.2 469.7 L833.8 468.2 L835.4 468.4 L837.0 466.9 L838.6 467.5 L840.2 466.4 L841.8 467.2 L843.4 468.2 L845.0 468.3 L846.6 468.7 L848.2 470.1 L849.8 472.0 L851.4 470.3 L853.0 472.0 L854.6 473.2 L856.2 473.0 L857.8 473.2 L859.4 476.0 L861.0 475.0 L862.6 476.3 L864.2 475.8 L865.8 476.0 L867.4 473.7 L869.0 473.2 L870.6 471.6 L872.2 470.4 L873.8 469.7 L875.4 467.6 L877.0 466.8 L878.6 468.7 L880.2 467.4 L881.8 466.0 L883.4 469.7 L885.0 469.5 L886.6 470.2 L888.2 470.1 L889.8 470.8 L891.4 471.7 L893.0 469.5 L894.6 469.2 L896.2 468.8 L897.8 466.6 L899.4 472.7 L901.0 471.0 L902.6 475.9 L904.2 478.8 L905.8 483.1 L907.4 482.2 L909.0 477.9 L910.6 473.6 L912.2 470.1 L913.8 464.0 L915.4 464.1 L917.0 463.5 L918.6 462.7 L920.2 461.3 L921.8 462.8 L923.4 462.4 L925.0 465.6 L926.6 461.2 L928.2 467.2 L929.8 465.2 L931.4 462.0 L933.0 462.7 L934.6 465.0 L936.2 467.2 L937.8 472.4 L939.4 476.6 L941.0 482.6 L942.6 480.9 L944.2 480.7 L945.8 474.0 L947.4 467.5 L949.0 464.5 L950.6 465.0 L952.2 462.2 L953.8 461.7 L955.4 458.0 L957.0 456.6 L958.6 459.5 L960.2 465.4 L961.8 467.6 L963.4 467.5 L965.0 469.4 L966.6 470.6 L968.2 471.2 L969.8 472.0 L971.4 471.7 L973.0 473.7 L974.6 474.8 L976.2 471.0 L977.8 468.7 L979.4 464.1 L981.0 463.4 L982.6 464.9 L984.2 471.4 L985.8 468.2 L987.4 463.8 L989.0 466.8 L990.6 475.0 L991.0 476.4" fill="none" stroke="#1e6fdc" stroke-width="2.2" stroke-linejoin="round" stroke-linecap="butt"/>
<path d="M125.0 362.6 L126.6 362.0 L128.2 363.5 L129.8 362.9 L131.4 362.3 L133.0 362.5 L134.6 361.9 L136.2 362.3 L137.8 363.1 L139.4 363.0 L141.0 363.8 L142.6 362.4 L144.2 361.7 L145.8 362.4 L147.4 363.1 L149.0 362.1 L150.6 362.5 L152.2 362.6 L153.8 361.7 L155.4 363.3 L157.0 362.0 L158.6 362.3 L160.2 361.7 L161.8 362.9 L163.4 361.7 L165.0 363.0 L166.6 363.5 L168.2 362.8 L169.8 362.3 L171.4 361.7 L173.0 362.5 L174.6 362.3 L176.2 362.3 L177.8 362.0 L179.4 361.5 L181.0 363.4 L182.6 362.9 L184.2 361.4 L185.8 362.3 L187.4 362.1 L189.0 361.6 L190.6 361.9 L192.2 361.9 L193.8 362.1 L195.4 361.3 L197.0 359.7 L198.6 360.8 L200.2 359.7 L201.8 359.6 L203.4 359.3 L205.0 359.1 L206.6 359.8 L208.2 359.0 L209.8 360.5 L211.4 360.1 L213.0 360.5 L214.6 361.5 L216.2 362.1 L217.8 361.6 L219.4 361.7 L221.0 361.9 L222.6 361.8 L224.2 362.5 L225.8 363.1 L227.4 362.4 L229.0 362.2 L230.6 362.7 L232.2 362.6 L233.8 362.1 L235.4 362.2 L237.0 362.5 L238.6 361.8 L240.2 362.6 L241.8 361.8 L243.4 362.1 L245.0 362.1 L246.6 362.5 L248.2 362.4 L249.8 362.4 L251.4 362.3 L253.0 362.3 L254.6 362.5 L256.2 362.2 L257.8 362.3 L259.4 362.6 L261.0 362.0 L262.6 362.6 L264.2 362.5 L265.8 362.3 L267.4 363.1 L269.0 361.9 L270.6 363.3 L272.2 362.8 L273.8 362.7 L275.4 362.1 L277.0 362.7 L278.6 362.3 L280.2 362.1 L281.8 363.1 L283.4 362.5 L285.0 362.2 L286.6 362.0 L288.2 362.7 L289.8 362.9 L291.4 363.1 L293.0 362.6 L294.6 362.4 L296.2 362.4 L297.8 362.9 L299.4 362.3 L301.0 362.7 L302.6 362.6 L304.2 362.4 L305.8 362.9 L307.4 362.2 L309.0 361.9 L310.6 362.0 L312.2 362.0 L313.8 362.4 L315.4 361.3 L317.0 360.8 L318.6 358.5 L320.2 355.8 L321.8 353.0 L323.4 350.1 L325.0 347.0 L326.6 344.0 L328.2 341.4 L329.8 338.9 L331.4 336.6 L333.0 335.7 L334.6 336.2 L336.2 338.5 L337.8 341.5 L339.4 344.4 L341.0 348.3 L342.6 351.2 L344.2 354.5 L345.8 356.7 L347.4 358.6 L349.0 359.4 L350.6 359.9 L352.2 360.5 L353.8 360.7 L355.4 361.1 L357.0 361.5 L358.6 361.4 L360.2 361.8 L361.8 361.4 L363.4 361.6 L365.0 361.3 L366.6 361.3 L368.2 361.1 L369.8 361.4 L371.4 361.1 L373.0 361.2 L374.6 361.2 L376.2 361.0 L377.8 361.0 L379.4 361.2 L381.0 361.4 L382.6 360.9 L384.2 361.1 L385.8 360.6 L387.4 361.1 L389.0 361.0 L390.6 360.8 L392.2 360.9 L393.8 361.1 L395.4 361.4 L397.0 360.9 L398.6 361.1 L400.2 361.2 L401.8 361.2 L403.4 361.4 L405.0 362.0 L406.6 361.9 L408.2 362.6 L409.8 362.6 L411.4 362.7 L413.0 362.7 L414.6 362.6 L416.2 362.5 L417.8 362.4 L419.4 362.9 L421.0 362.5 L422.6 362.4 L424.2 362.7 L425.8 362.2 L427.4 362.3 L429.0 362.4 L430.6 362.2 L432.2 362.1 L433.8 362.1 L435.4 362.0 L437.0 361.7 L438.6 360.9 L440.2 360.8 L441.8 360.8 L443.4 360.7 L445.0 360.0 L446.6 359.8 L448.2 358.9 L449.8 358.4 L451.4 358.1 L453.0 357.6 L454.6 357.9 L456.2 357.3 L457.8 357.0 L459.4 356.5 L461.0 356.2 L462.6 356.0 L464.2 355.6 L465.8 355.3 L467.4 355.2 L469.0 354.6 L470.6 354.5 L472.2 354.1 L473.8 354.0 L475.4 354.1 L477.0 353.8 L478.6 353.4 L480.2 353.7 L481.8 353.7 L483.4 353.7 L485.0 353.4 L486.6 353.7 L488.2 353.9 L489.8 353.2 L491.4 353.6 L493.0 353.3 L494.6 353.3 L496.2 353.1 L497.8 353.0 L499.4 352.8 L501.0 353.1 L502.6 353.4 L504.2 352.8 L505.8 352.7 L507.4 352.7 L509.0 352.7 L510.6 352.5 L512.2 352.0 L513.8 351.8 L515.4 351.1 L517.0 349.7 L518.6 347.9 L520.2 345.5 L521.8 342.4 L523.4 339.0 L525.0 335.6 L526.6 331.6 L528.2 328.5 L529.8 325.1 L531.4 321.7 L533.0 318.7 L534.6 316.5 L536.2 314.1 L537.8 312.6 L539.4 310.9 L541.0 310.4 L542.6 309.7 L544.2 309.1 L545.8 309.2 L547.4 308.8 L549.0 308.7 L550.6 308.6 L552.2 308.4 L553.8 308.3 L555.4 309.1 L557.0 309.3 L558.6 309.8 L560.2 310.8 L561.8 312.5 L563.4 314.3 L565.0 316.3 L566.6 318.3 L568.2 320.5 L569.8 323.5 L571.4 325.5 L573.0 327.4 L574.6 329.9 L576.2 331.6 L577.8 332.4 L579.4 334.1 L581.0 335.0 L582.6 335.5 L584.2 335.4 L585.8 336.7 L587.4 337.4 L589.0 338.5 L590.6 340.0 L592.2 342.2 L593.8 344.3 L595.4 346.1 L597.0 347.8 L598.6 349.6 L600.2 351.2 L601.8 352.9 L603.4 354.2 L605.0 354.8 L606.6 355.2 L608.2 356.5 L609.8 357.5 L611.4 357.8 L613.0 358.2 L614.6 359.2 L616.2 359.0 L617.8 360.4 L619.4 360.3 L621.0 360.7 L622.6 360.3 L624.2 361.0 L625.8 361.0 L627.4 361.1 L629.0 360.9 L630.6 362.2 L632.2 362.2 L633.8 362.1 L635.4 361.8 L637.0 362.9 L638.6 363.2 L640.2 362.3 L641.8 363.1 L643.4 363.3 L645.0 363.5 L646.6 363.7 L648.2 364.5 L649.8 363.7 L651.4 364.2 L653.0 363.7 L654.6 364.2 L656.2 363.9 L657.8 363.3 L659.4 364.9 L661.0 363.9 L662.6 364.4 L664.2 364.0 L665.8 364.1 L667.4 362.8 L669.0 363.3 L670.6 362.3 L672.2 361.7 L673.8 361.5 L675.4 360.6 L677.0 360.3 L678.6 359.7 L680.2 359.2 L681.8 358.5 L683.4 358.0 L685.0 358.2 L686.6 357.2 L688.2 357.0 L689.8 356.8 L691.4 356.3 L693.0 355.9 L694.6 355.7 L696.2 355.5 L697.8 354.8 L699.4 355.0 L701.0 355.3 L702.6 354.7 L704.2 353.8 L705.8 353.6 L707.4 354.2 L709.0 354.0 L710.6 354.4 L712.2 354.1 L713.8 353.8 L715.4 352.6 L717.0 351.0 L718.6 349.6 L720.2 347.0 L721.8 345.8 L723.4 343.3 L725.0 341.4 L726.6 338.9 L728.2 336.3 L729.8 334.6 L731.4 333.4 L733.0 334.1 L734.6 335.5 L736.2 336.0 L737.8 335.6 L739.4 336.7 L741.0 336.0 L742.6 335.9 L744.2 335.4 L745.8 336.0 L747.4 337.0 L749.0 337.6 L750.6 338.6 L752.2 339.3 L753.8 341.3 L755.4 342.5 L757.0 343.0 L758.6 344.1 L760.2 344.9 L761.8 345.5 L763.4 346.5 L765.0 347.7 L766.6 347.8 L768.2 348.3 L769.8 347.5 L771.4 348.7 L773.0 348.8 L774.6 348.6 L776.2 349.4 L777.8 348.3 L779.4 347.7 L781.0 346.9 L782.6 346.0 L784.2 346.1 L785.8 347.8 L787.4 349.0 L789.0 350.7 L790.6 351.1 L792.2 352.5 L793.8 353.1 L795.4 355.0 L797.0 355.5 L798.6 357.2 L800.2 357.9 L801.8 358.3 L803.4 358.5 L805.0 359.5 L806.6 360.0 L808.2 360.5 L809.8 360.7 L811.4 360.6 L813.0 362.2 L814.6 361.8 L816.2 361.5 L817.8 363.1 L819.4 363.8 L821.0 362.8 L822.6 362.4 L824.2 361.9 L825.8 361.5 L827.4 361.8 L829.0 360.0 L830.6 359.9 L832.2 359.6 L833.8 358.7 L835.4 359.5 L837.0 359.1 L838.6 357.6 L840.2 359.0 L841.8 358.8 L843.4 359.4 L845.0 359.0 L846.6 360.3 L848.2 359.1 L849.8 362.3 L851.4 361.6 L853.0 363.2 L854.6 362.8 L856.2 363.8 L857.8 362.7 L859.4 365.1 L861.0 363.7 L862.6 362.4 L864.2 361.1 L865.8 358.9 L867.4 358.5 L869.0 358.8 L870.6 358.4 L872.2 358.4 L873.8 358.2 L875.4 357.5 L877.0 359.5 L878.6 357.8 L880.2 356.7 L881.8 356.5 L883.4 358.3 L885.0 355.0 L886.6 357.0 L888.2 358.9 L889.8 357.5 L891.4 359.3 L893.0 360.7 L894.6 359.0 L896.2 359.1 L897.8 356.5 L899.4 359.9 L901.0 359.0 L902.6 360.4 L904.2 363.2 L905.8 362.9 L907.4 365.6 L909.0 363.7 L910.6 362.7 L912.2 361.5 L913.8 359.8 L915.4 358.3 L917.0 358.2 L918.6 356.5 L920.2 357.4 L921.8 361.6 L923.4 360.1 L925.0 359.9 L926.6 358.8 L928.2 359.5 L929.8 356.8 L931.4 356.5 L933.0 358.7 L934.6 358.8 L936.2 362.7 L937.8 362.8 L939.4 365.1 L941.0 367.5 L942.6 369.6 L944.2 365.0 L945.8 358.0 L947.4 356.5 L949.0 355.8 L950.6 352.3 L952.2 353.6 L953.8 356.4 L955.4 353.6 L957.0 347.3 L958.6 350.6 L960.2 352.0 L961.8 355.2 L963.4 352.8 L965.0 354.5 L966.6 352.5 L968.2 350.7 L969.8 351.8 L971.4 349.7 L973.0 353.7 L974.6 356.9 L976.2 357.3 L977.8 355.6 L979.4 350.0 L981.0 349.9 L982.6 349.9 L984.2 351.0 L985.8 349.1 L987.4 349.1 L989.0 354.4 L990.6 354.0 L991.0 354.3" fill="none" stroke="#ee3d43" stroke-width="2.2" stroke-linejoin="round" stroke-linecap="butt"/>
<path d="M125.0 287.8 L126.6 288.1 L128.2 289.0 L129.8 288.1 L131.4 288.4 L133.0 288.5 L134.6 288.5 L136.2 288.9 L137.8 288.3 L139.4 288.8 L141.0 287.5 L142.6 288.1 L144.2 289.4 L145.8 288.5 L147.4 288.9 L149.0 290.2 L150.6 288.5 L152.2 288.6 L153.8 287.9 L155.4 288.0 L157.0 287.2 L158.6 287.6 L160.2 288.2 L161.8 286.6 L163.4 287.5 L165.0 286.7 L166.6 287.8 L168.2 288.5 L169.8 287.9 L171.4 288.4 L173.0 287.8 L174.6 288.0 L176.2 287.4 L177.8 287.2 L179.4 287.2 L181.0 287.9 L182.6 287.3 L184.2 287.2 L185.8 287.9 L187.4 286.8 L189.0 285.9 L190.6 286.1 L192.2 286.8 L193.8 285.8 L195.4 286.1 L197.0 284.9 L198.6 283.3 L200.2 282.6 L201.8 280.2 L203.4 279.2 L205.0 278.6 L206.6 278.8 L208.2 280.7 L209.8 281.4 L211.4 283.2 L213.0 284.2 L214.6 285.6 L216.2 286.8 L217.8 286.1 L219.4 287.4 L221.0 287.4 L222.6 287.9 L224.2 287.5 L225.8 287.1 L227.4 287.4 L229.0 287.8 L230.6 288.5 L232.2 288.2 L233.8 289.0 L235.4 288.7 L237.0 289.3 L238.6 288.8 L240.2 288.1 L241.8 288.3 L243.4 288.7 L245.0 288.7 L246.6 288.3 L248.2 288.8 L249.8 288.6 L251.4 288.0 L253.0 288.8 L254.6 287.6 L256.2 287.8 L257.8 288.3 L259.4 288.2 L261.0 287.7 L262.6 287.9 L264.2 288.0 L265.8 287.1 L267.4 288.9 L269.0 287.7 L270.6 288.3 L272.2 288.7 L273.8 288.7 L275.4 288.5 L277.0 287.5 L278.6 287.7 L280.2 289.2 L281.8 288.8 L283.4 288.5 L285.0 288.3 L286.6 288.2 L288.2 288.8 L289.8 287.8 L291.4 287.9 L293.0 287.7 L294.6 288.0 L296.2 287.6 L297.8 287.9 L299.4 288.3 L301.0 288.1 L302.6 287.3 L304.2 288.5 L305.8 287.6 L307.4 287.3 L309.0 287.1 L310.6 288.0 L312.2 287.7 L313.8 287.3 L315.4 287.9 L317.0 287.0 L318.6 286.3 L320.2 284.6 L321.8 282.0 L323.4 277.0 L325.0 270.3 L326.6 259.4 L328.2 248.6 L329.8 238.2 L331.4 230.9 L333.0 226.2 L334.6 227.0 L336.2 232.4 L337.8 242.1 L339.4 252.6 L341.0 261.9 L342.6 270.4 L344.2 276.6 L345.8 280.7 L347.4 283.2 L349.0 285.4 L350.6 286.2 L352.2 286.8 L353.8 287.1 L355.4 287.0 L357.0 286.9 L358.6 287.2 L360.2 286.8 L361.8 286.7 L363.4 286.9 L365.0 286.5 L366.6 286.6 L368.2 286.5 L369.8 286.0 L371.4 286.3 L373.0 285.7 L374.6 285.5 L376.2 285.3 L377.8 284.8 L379.4 285.0 L381.0 285.0 L382.6 284.4 L384.2 284.7 L385.8 284.4 L387.4 284.1 L389.0 283.9 L390.6 284.4 L392.2 283.6 L393.8 284.0 L395.4 284.4 L397.0 284.2 L398.6 284.3 L400.2 284.8 L401.8 284.8 L403.4 284.3 L405.0 284.5 L406.6 284.6 L408.2 284.6 L409.8 284.9 L411.4 284.8 L413.0 284.9 L414.6 285.0 L416.2 285.7 L417.8 286.1 L419.4 286.7 L421.0 286.7 L422.6 286.9 L424.2 287.3 L425.8 287.2 L427.4 287.2 L429.0 287.9 L430.6 287.9 L432.2 287.8 L433.8 288.0 L435.4 288.0 L437.0 288.1 L438.6 287.7 L440.2 287.7 L441.8 287.4 L443.4 287.0 L445.0 286.8 L446.6 286.7 L448.2 285.7 L449.8 286.4 L451.4 285.7 L453.0 285.3 L454.6 285.0 L456.2 284.9 L457.8 284.7 L459.4 284.6 L461.0 284.3 L462.6 283.9 L464.2 283.5 L465.8 283.2 L467.4 282.8 L469.0 282.4 L470.6 282.5 L472.2 282.3 L473.8 281.9 L475.4 281.1 L477.0 280.7 L478.6 280.8 L480.2 280.3 L481.8 280.0 L483.4 280.3 L485.0 279.9 L486.6 280.1 L488.2 280.2 L489.8 280.2 L491.4 280.3 L493.0 280.2 L494.6 280.7 L496.2 280.6 L497.8 280.7 L499.4 280.3 L501.0 280.6 L502.6 280.3 L504.2 280.9 L505.8 281.0 L507.4 282.0 L509.0 282.1 L510.6 282.9 L512.2 282.8 L513.8 282.6 L515.4 281.6 L517.0 280.8 L518.6 278.7 L520.2 273.8 L521.8 268.5 L523.4 261.8 L525.0 253.8 L526.6 244.4 L528.2 234.7 L529.8 224.8 L531.4 213.8 L533.0 203.0 L534.6 192.4 L536.2 183.3 L537.8 176.1 L539.4 170.2 L541.0 165.8 L542.6 163.2 L544.2 161.0 L545.8 159.9 L547.4 159.3 L549.0 158.8 L550.6 159.0 L552.2 158.8 L553.8 158.8 L555.4 159.1 L557.0 159.0 L558.6 159.3 L560.2 159.9 L561.8 160.8 L563.4 162.9 L565.0 166.6 L566.6 170.9 L568.2 176.4 L569.8 182.6 L571.4 188.4 L573.0 195.2 L574.6 201.4 L576.2 205.4 L577.8 206.9 L579.4 206.1 L581.0 204.5 L582.6 203.3 L584.2 202.3 L585.8 202.6 L587.4 205.0 L589.0 208.9 L590.6 214.7 L592.2 220.9 L593.8 227.3 L595.4 235.4 L597.0 243.3 L598.6 249.8 L600.2 255.0 L601.8 260.6 L603.4 263.7 L605.0 264.9 L606.6 266.3 L608.2 268.1 L609.8 270.0 L611.4 271.8 L613.0 273.1 L614.6 275.4 L616.2 275.8 L617.8 276.3 L619.4 277.7 L621.0 277.7 L622.6 278.7 L624.2 280.6 L625.8 281.4 L627.4 281.6 L629.0 282.6 L630.6 282.6 L632.2 281.0 L633.8 280.7 L635.4 279.4 L637.0 278.4 L638.6 276.7 L640.2 276.0 L641.8 276.8 L643.4 276.4 L645.0 277.2 L646.6 278.1 L648.2 278.8 L649.8 279.9 L651.4 280.6 L653.0 283.5 L654.6 284.1 L656.2 285.9 L657.8 286.7 L659.4 286.8 L661.0 287.4 L662.6 287.0 L664.2 286.3 L665.8 285.7 L667.4 286.1 L669.0 284.7 L670.6 284.5 L672.2 283.9 L673.8 282.9 L675.4 281.9 L677.0 280.8 L678.6 280.2 L680.2 278.2 L681.8 278.4 L683.4 276.9 L685.0 276.0 L686.6 274.8 L688.2 274.1 L689.8 273.0 L691.4 272.2 L693.0 271.6 L694.6 270.5 L696.2 270.0 L697.8 269.4 L699.4 268.0 L701.0 268.7 L702.6 267.8 L704.2 266.4 L705.8 266.6 L707.4 265.5 L709.0 265.5 L710.6 265.5 L712.2 265.8 L713.8 264.0 L715.4 260.4 L717.0 257.0 L718.6 253.5 L720.2 247.4 L721.8 243.0 L723.4 236.4 L725.0 230.3 L726.6 223.6 L728.2 217.9 L729.8 212.9 L731.4 209.3 L733.0 211.5 L734.6 216.3 L736.2 220.2 L737.8 223.3 L739.4 225.8 L741.0 229.5 L742.6 231.2 L744.2 233.7 L745.8 236.7 L747.4 240.5 L749.0 244.7 L750.6 247.4 L752.2 249.7 L753.8 251.4 L755.4 253.6 L757.0 255.2 L758.6 257.7 L760.2 259.4 L761.8 261.8 L763.4 263.7 L765.0 264.3 L766.6 264.6 L768.2 262.8 L769.8 261.2 L771.4 260.7 L773.0 260.1 L774.6 258.5 L776.2 257.2 L777.8 255.4 L779.4 253.5 L781.0 250.3 L782.6 248.9 L784.2 249.3 L785.8 253.4 L787.4 258.0 L789.0 261.9 L790.6 265.9 L792.2 269.8 L793.8 271.8 L795.4 275.5 L797.0 278.6 L798.6 281.1 L800.2 284.3 L801.8 285.6 L803.4 287.4 L805.0 288.0 L806.6 287.3 L808.2 287.4 L809.8 287.4 L811.4 288.9 L813.0 289.0 L814.6 289.2 L816.2 290.4 L817.8 292.1 L819.4 291.5 L821.0 290.6 L822.6 289.2 L824.2 287.1 L825.8 284.8 L827.4 284.0 L829.0 282.7 L830.6 280.5 L832.2 280.5 L833.8 281.5 L835.4 280.5 L837.0 281.6 L838.6 280.0 L840.2 278.6 L841.8 278.9 L843.4 280.1 L845.0 282.3 L846.6 283.1 L848.2 282.1 L849.8 282.1 L851.4 283.9 L853.0 282.1 L854.6 283.5 L856.2 285.9 L857.8 288.8 L859.4 288.1 L861.0 290.0 L862.6 290.8 L864.2 290.9 L865.8 288.4 L867.4 285.5 L869.0 283.7 L870.6 283.8 L872.2 285.4 L873.8 285.7 L875.4 286.5 L877.0 288.3 L878.6 288.4 L880.2 287.9 L881.8 286.7 L883.4 285.5 L885.0 281.9 L886.6 287.6 L888.2 288.0 L889.8 290.1 L891.4 291.4 L893.0 286.3 L894.6 283.0 L896.2 286.1 L897.8 287.0 L899.4 287.5 L901.0 278.6 L902.6 280.0 L904.2 286.4 L905.8 292.6 L907.4 293.6 L909.0 289.0 L910.6 286.1 L912.2 287.2 L913.8 287.6 L915.4 288.3 L917.0 284.1 L918.6 280.6 L920.2 281.7 L921.8 286.2 L923.4 287.5 L925.0 290.2 L926.6 285.0 L928.2 282.5 L929.8 282.5 L931.4 280.2 L933.0 281.3 L934.6 283.6 L936.2 285.5 L937.8 287.4 L939.4 293.1 L941.0 292.8 L942.6 295.7 L944.2 291.7 L945.8 287.7 L947.4 284.8 L949.0 281.1 L950.6 282.0 L952.2 284.4 L953.8 283.0 L955.4 275.6 L957.0 271.8 L958.6 274.8 L960.2 279.3 L961.8 280.7 L963.4 283.2 L965.0 284.6 L966.6 282.2 L968.2 282.2 L969.8 279.9 L971.4 284.1 L973.0 283.9 L974.6 289.1 L976.2 294.1 L977.8 290.5 L979.4 282.3 L981.0 281.4 L982.6 285.5 L984.2 280.5 L985.8 276.8 L987.4 281.5 L989.0 289.2 L990.6 290.2 L991.0 292.5" fill="none" stroke="#000000" stroke-width="2.2" stroke-linejoin="round" stroke-linecap="butt"/>
<rect x="124.7" y="36.9" width="866.7" height="698.75" fill="none" stroke="#000" stroke-width="2.5"/>
<line x1="124.70" y1="735.65" x2="124.70" y2="748.85" stroke="#000" stroke-width="2.3"/>
<line x1="211.30" y1="735.65" x2="211.30" y2="741.4499999999999" stroke="#000" stroke-width="2.3"/>
<line x1="297.95" y1="735.65" x2="297.95" y2="748.85" stroke="#000" stroke-width="2.3"/>
<line x1="384.60" y1="735.65" x2="384.60" y2="741.4499999999999" stroke="#000" stroke-width="2.3"/>
<line x1="471.60" y1="735.65" x2="471.60" y2="748.85" stroke="#000" stroke-width="2.3"/>
<line x1="557.40" y1="735.65" x2="557.40" y2="741.4499999999999" stroke="#000" stroke-width="2.3"/>
<line x1="643.10" y1="735.65" x2="643.10" y2="748.85" stroke="#000" stroke-width="2.3"/>
<line x1="730.10" y1="735.65" x2="730.10" y2="741.4499999999999" stroke="#000" stroke-width="2.3"/>
<line x1="816.70" y1="735.65" x2="816.70" y2="748.85" stroke="#000" stroke-width="2.3"/>
<line x1="903.50" y1="735.65" x2="903.50" y2="741.4499999999999" stroke="#000" stroke-width="2.3"/>
<line x1="991.40" y1="735.65" x2="991.40" y2="748.85" stroke="#000" stroke-width="2.3"/>
<text transform="translate(17.0 29.3) scale(1.05 1)" font-size="38.5" font-weight="bold" fill="#000" stroke="#000" stroke-width="0.5" stroke-linejoin="round" text-anchor="start" >(a)</text>
<text transform="translate(-1.0 921.0) scale(1.05 1)" font-size="38" font-weight="bold" fill="#000" stroke="#000" stroke-width="0.5" stroke-linejoin="round" text-anchor="start" >(b)</text>
<clipPath id="c1"><rect x="-2" y="-42.30" width="42.30" height="37.08"/><rect x="9.57" y="-5.72" width="6.40" height="7.22"/></clipPath>
<text transform="translate(77.31 786.0) scale(0.94 1)" font-size="42.3" font-weight="bold" fill="#000" stroke="#000" stroke-width="0.5" stroke-linejoin="round" text-anchor="start" clip-path="url(#c1)">1</text>
<text transform="translate(109.83 786.0) scale(0.94 1)" font-size="42.3" font-weight="bold" fill="#000" stroke="#000" stroke-width="0.5" stroke-linejoin="round" text-anchor="start" >500</text>
<text transform="translate(250.61 786.0) scale(0.94 1)" font-size="42.3" font-weight="bold" fill="#000" stroke="#000" stroke-width="0.5" stroke-linejoin="round" text-anchor="start" clip-path="url(#c1)">1</text>
<text transform="translate(283.14 786.0) scale(0.94 1)" font-size="42.3" font-weight="bold" fill="#000" stroke="#000" stroke-width="0.5" stroke-linejoin="round" text-anchor="start" >300</text>
<text transform="translate(426.51 786.0) scale(0.94 1)" font-size="42.3" font-weight="bold" fill="#000" stroke="#000" stroke-width="0.5" stroke-linejoin="round" text-anchor="start" clip-path="url(#c1)">1</text>
<text transform="translate(455.21 786.0) scale(0.94 1)" font-size="42.3" font-weight="bold" fill="#000" stroke="#000" stroke-width="0.5" stroke-linejoin="round" text-anchor="start" clip-path="url(#c1)">1</text>
<text transform="translate(476.08 786.0) scale(0.94 1)" font-size="42.3" font-weight="bold" fill="#000" stroke="#000" stroke-width="0.5" stroke-linejoin="round" text-anchor="start" >00</text>
<text transform="translate(612.82 786.0) scale(0.94 1)" font-size="42.3" font-weight="bold" fill="#000" stroke="#000" stroke-width="0.5" stroke-linejoin="round" text-anchor="start" >900</text>
<text transform="translate(786.54 786.0) scale(0.94 1)" font-size="42.3" font-weight="bold" fill="#000" stroke="#000" stroke-width="0.5" stroke-linejoin="round" text-anchor="start" >700</text>
<text transform="translate(960.43 786.0) scale(0.94 1)" font-size="42.3" font-weight="bold" fill="#000" stroke="#000" stroke-width="0.5" stroke-linejoin="round" text-anchor="start" >500</text>
<text transform="translate(371.0 843.6) scale(1.053 1)" font-size="38" font-weight="bold" fill="#000" stroke="#000" stroke-width="0.5" stroke-linejoin="round" text-anchor="start" >Wavenumber/cm</text>
<clipPath id="c2"><rect x="-2" y="-23.80" width="23.80" height="20.37"/><rect x="5.25" y="-3.93" width="3.87" height="5.43"/></clipPath>
<text transform="translate(690.11 831.0) scale(1.0 1)" font-size="23.8" font-weight="bold" fill="#000" stroke="#000" stroke-width="0.5" stroke-linejoin="round" text-anchor="start" >−</text>
<text transform="translate(702.81 831.0) scale(1.0 1)" font-size="23.8" font-weight="bold" fill="#000" stroke="#000" stroke-width="0.5" stroke-linejoin="round" text-anchor="start" clip-path="url(#c2)">1</text>
<text transform="translate(80.6 505.3) rotate(-90) scale(1.0 1)" font-size="31.5" font-weight="bold" fill="#000" stroke="#000" stroke-width="0.5" stroke-linejoin="round" text-anchor="start" >Absorbance/(a.u.)</text>
<text transform="translate(837.7 258.0) scale(1.02 1)" font-size="39.2" font-weight="bold" fill="#000" stroke="#000" stroke-width="0.5" stroke-linejoin="round" text-anchor="start" >Pristine</text>
<text transform="translate(857.6 338.5) scale(0.957 1)" font-size="41.5" font-weight="bold" fill="#ee3d43" stroke="#ee3d43" stroke-width="0.5" stroke-linejoin="round" text-anchor="start" >200°C</text>
<text transform="translate(857.6 445.0) scale(0.957 1)" font-size="41.5" font-weight="bold" fill="#1e6fdc" stroke="#1e6fdc" stroke-width="0.5" stroke-linejoin="round" text-anchor="start" >400°C</text>
<text transform="translate(857.6 537.2) scale(0.957 1)" font-size="41.5" font-weight="bold" fill="#3aa66a" stroke="#3aa66a" stroke-width="0.5" stroke-linejoin="round" text-anchor="start" >550°C</text>
<text transform="translate(857.6 613.3) scale(0.957 1)" font-size="41.5" font-weight="bold" fill="#ff00f0" stroke="#ff00f0" stroke-width="0.5" stroke-linejoin="round" text-anchor="start" >700°C</text>
<text transform="translate(857.6 699.0) scale(0.957 1)" font-size="41.5" font-weight="bold" fill="#f07f27" stroke="#f07f27" stroke-width="0.5" stroke-linejoin="round" text-anchor="start" >850°C</text>
<text transform="translate(347.3 222.0) scale(1.04 1)" font-size="30" font-weight="bold" fill="#ff0606" stroke="#ff0606" stroke-width="0.7" stroke-linejoin="round" text-anchor="start" >Oxide</text>
<text transform="translate(394.8 172.0) scale(1.04 1)" font-size="30" font-weight="bold" fill="#ff0606" stroke="#ff0606" stroke-width="0.7" stroke-linejoin="round" text-anchor="start" >Cage</text>
<text transform="translate(424.6 138.8) scale(1.04 1)" font-size="30" font-weight="bold" fill="#ff0606" stroke="#ff0606" stroke-width="0.7" stroke-linejoin="round" text-anchor="start" >Network</text>
<text transform="translate(510.0 101.2) scale(1.035 1)" font-size="30" font-weight="bold" fill="#ff0606" stroke="#ff0606" stroke-width="0.7" stroke-linejoin="round" text-anchor="start" >Ring</text>
<text transform="translate(134.3 216.1) scale(1.029 1)" font-size="29.8" font-weight="bold" fill="#000" stroke="#000" stroke-width="0.9" stroke-linejoin="round" text-anchor="start" ><tspan font-style="italic">δ</tspan> (=CH<tspan font-size="18.2" dy="7.2" dx="0.4">2</tspan><tspan dy="-7.2" dx="0.8">​</tspan>)</text>
<text transform="translate(187.0 149.7) scale(1.025 1)" font-size="29.8" font-weight="bold" fill="#000" stroke="#000" stroke-width="0.9" stroke-linejoin="round" text-anchor="start" ><tspan font-style="italic">δ</tspan><tspan font-size="18.2" dy="7.2" dx="0.4"><tspan font-style="italic">s</tspan></tspan><tspan dy="-7.2" dx="0.8">​</tspan> (Si-CH<tspan font-size="18.2" dy="7.2" dx="0.4">3</tspan><tspan dy="-7.2" dx="0.8">​</tspan>)</text>
<text transform="translate(380.2 69.8) scale(1.034 1)" font-size="29.8" font-weight="bold" fill="#000" stroke="#000" stroke-width="0.9" stroke-linejoin="round" text-anchor="start" ><tspan font-style="italic">v</tspan><tspan font-size="16.8" dy="7.2" dx="0.4"><tspan font-style="italic">as</tspan></tspan><tspan dy="-7.2" dx="0.8">​</tspan> (Si-O-Si)</text>
<text transform="translate(670.2 68.9) scale(1.029 1)" font-size="29.8" font-weight="bold" fill="#000" stroke="#000" stroke-width="0.9" stroke-linejoin="round" text-anchor="start" ><tspan font-style="italic">ρ</tspan> (Si-CH<tspan font-size="18.2" dy="7.2" dx="0.4">3</tspan><tspan dy="-7.2" dx="0.8">​</tspan>)</text>
<text transform="translate(633.5 117.1) scale(1.025 1)" font-size="29.8" font-weight="bold" fill="#000" stroke="#000" stroke-width="0.9" stroke-linejoin="round" text-anchor="start" ><tspan font-style="italic">v</tspan> (Si-C)</text>
<text transform="translate(579.7 163.8) scale(1.02 1)" font-size="29.8" font-weight="bold" fill="#000" stroke="#000" stroke-width="0.9" stroke-linejoin="round" text-anchor="start" ><tspan font-style="italic">ω</tspan> (CH<tspan font-size="18.2" dy="7.2" dx="0.4">2</tspan><tspan dy="-7.2" dx="0.8">​</tspan>)</text>
<text transform="translate(761.0 163.8) scale(1.034 1)" font-size="29.8" font-weight="bold" fill="#000" stroke="#000" stroke-width="0.9" stroke-linejoin="round" text-anchor="start" ><tspan font-style="italic">v</tspan><tspan font-size="18.2" dy="7.2" dx="0.4"><tspan font-style="italic">s</tspan></tspan><tspan dy="-7.2" dx="0.8">​</tspan> (Si-O-Si)</text>
<text transform="translate(200.8 1009.0) scale(1.07 1)" font-size="29.0" font-weight="bold" text-anchor="middle" fill="#000" stroke="#000" stroke-width="0.8" stroke-linejoin="round">Si</text>
<text transform="translate(158.1 1032.2) scale(1.0 1)" font-size="31.4" font-weight="bold" text-anchor="middle" fill="#000" stroke="#000" stroke-width="0.8" stroke-linejoin="round">O</text>
<text transform="translate(234.6 1032.2) scale(1.0 1)" font-size="31.4" font-weight="bold" text-anchor="middle" fill="#000" stroke="#000" stroke-width="0.8" stroke-linejoin="round">O</text>
<text transform="translate(159.4 1076.6) scale(1.07 1)" font-size="29.0" font-weight="bold" text-anchor="middle" fill="#000" stroke="#000" stroke-width="0.8" stroke-linejoin="round">Si</text>
<text transform="translate(237.2 1076.6) scale(1.07 1)" font-size="29.0" font-weight="bold" text-anchor="middle" fill="#000" stroke="#000" stroke-width="0.8" stroke-linejoin="round">Si</text>
<text transform="translate(196.7 1101.3999999999999) scale(1.0 1)" font-size="31.4" font-weight="bold" text-anchor="middle" fill="#000" stroke="#000" stroke-width="0.8" stroke-linejoin="round">O</text>
<path d="M182.1 1005.1 L169.2 1011.8" fill="none" stroke="#2b2b2b" stroke-width="1.7" stroke-linecap="round" stroke-linejoin="round"/>
<path d="M217.1 1008.7 L223.0 1012.1" fill="none" stroke="#2b2b2b" stroke-width="1.7" stroke-linecap="round" stroke-linejoin="round"/>
<path d="M156.4 1037.1 L156.4 1051.2" fill="none" stroke="#2b2b2b" stroke-width="1.7" stroke-linecap="round" stroke-linejoin="round"/>
<path d="M235.8 1037.1 L235.8 1051.2" fill="none" stroke="#2b2b2b" stroke-width="1.7" stroke-linecap="round" stroke-linejoin="round"/>
<path d="M174.3 1075.8 L183.2 1081.1" fill="none" stroke="#2b2b2b" stroke-width="1.7" stroke-linecap="round" stroke-linejoin="round"/>
<path d="M209.3 1081.1 L219.1 1075.8" fill="none" stroke="#2b2b2b" stroke-width="1.7" stroke-linecap="round" stroke-linejoin="round"/>
<path d="M217.1 992.3 L238.6 974.4" fill="none" stroke="#2b2b2b" stroke-width="1.7" stroke-linecap="round" stroke-linejoin="round"/>
<path d="M185.6 986.1 L163.9 964.3 L120.9 975.7" fill="none" stroke="#2b2b2b" stroke-width="1.7" stroke-linecap="round" stroke-linejoin="round"/>
<path d="M120.9 975.7 L121.2 974.8 L121.5 973.9 L121.6 973.1 L121.6 972.5 L121.5 971.9 L121.2 971.4 L120.7 971.1 L120.1 970.9 L119.3 970.8 L118.4 970.8 L117.4 970.9 L116.5 970.9 L115.6 970.9 L114.7 970.8 L114.1 970.7 L113.5 970.4 L113.2 970.0 L113.0 969.4 L113.0 968.8 L113.1 968.0 L113.4 967.1 L113.7 966.2 L114.0 965.3 L114.2 964.5 L114.4 963.6 L114.5 962.9 L114.4 962.3 L114.1 961.9 L113.7 961.5 L113.0 961.3 L112.3 961.2 L111.4 961.2 L110.5 961.2 L109.5 961.2 L108.6 961.2 L107.8 961.2 L107.0 961.0 L106.5 960.8 L106.1 960.4 L105.9 959.9 L105.8 959.2 L105.9 958.5 L106.1 957.7 L106.4 956.8 L106.7 955.9 L107.0 955.0 L107.2 954.2 L107.3 953.4 L107.3 952.8 L107.0 952.3 L106.6 951.9 L106.0 951.7 L105.3 951.5 L104.4 951.5 L103.5 951.5 L102.6 951.5 L101.6 951.6 L100.8 951.5 L100.0 951.4 L99.4 951.2 L99.0 950.8 L98.7 950.3 L98.6 949.7 L98.7 949.0 L98.9 948.2 L99.2 947.3 L99.5 946.4 L99.8 945.5 L100.0 944.7 L100.1 943.9 L100.1 943.2 L99.9 942.7 L99.6 942.3 L99.0 942.0 L98.3 941.9 L97.5 941.8 L96.6 941.8 L95.6 941.9 L94.7 941.9 L93.8 941.9" fill="none" stroke="#2b2b2b" stroke-width="1.65" stroke-linecap="round" stroke-linejoin="round"/>
<path d="M139.5 1061.0 L112.1 1053.5" fill="none" stroke="#2b2b2b" stroke-width="1.7" stroke-linecap="round" stroke-linejoin="round"/>
<path d="M142.6 1079.7 L124.2 1098.0 L79.9 1086.3" fill="none" stroke="#2b2b2b" stroke-width="1.7" stroke-linecap="round" stroke-linejoin="round"/>
<path d="M240.2 1083.2 L248.0 1109.5" fill="none" stroke="#2b2b2b" stroke-width="1.7" stroke-linecap="round" stroke-linejoin="round"/>
<path d="M253.0 1074.9 L285.0 1091.0 L318.0 1078.0" fill="none" stroke="#2b2b2b" stroke-width="1.7" stroke-linecap="round" stroke-linejoin="round"/>
<path d="M318.0 1078.0 L317.7 1078.9 L317.5 1079.8 L317.3 1080.6 L317.3 1081.2 L317.5 1081.8 L317.8 1082.2 L318.3 1082.5 L318.9 1082.7 L319.7 1082.8 L320.6 1082.7 L321.6 1082.7 L322.5 1082.6 L323.4 1082.6 L324.2 1082.6 L324.9 1082.8 L325.4 1083.0 L325.8 1083.4 L326.0 1084.0 L326.0 1084.6 L325.9 1085.4 L325.7 1086.3 L325.4 1087.2 L325.1 1088.1 L324.9 1088.9 L324.7 1089.8 L324.6 1090.5 L324.8 1091.1 L325.0 1091.5 L325.5 1091.8 L326.1 1092.0 L326.9 1092.1 L327.7 1092.1 L328.7 1092.1 L329.6 1092.0 L330.6 1092.0 L331.4 1092.0 L332.1 1092.1 L332.7 1092.3 L333.1 1092.7 L333.3 1093.2 L333.4 1093.8 L333.3 1094.6 L333.1 1095.4 L332.8 1096.3 L332.5 1097.2 L332.2 1098.1 L332.1 1098.9 L332.0 1099.7 L332.1 1100.3 L332.3 1100.8 L332.7 1101.1 L333.3 1101.4 L334.0 1101.5 L334.9 1101.5 L335.8 1101.4 L336.8 1101.4 L337.7 1101.3 L338.5 1101.3 L339.3 1101.4 L339.9 1101.6 L340.3 1102.0 L340.6 1102.4 L340.7 1103.1 L340.6 1103.8 L340.5 1104.6 L340.2 1105.5 L339.9 1106.4 L339.6 1107.3 L339.4 1108.1 L339.3 1108.9 L339.4 1109.5 L339.6 1110.1 L339.9 1110.4 L340.5 1110.7 L341.2 1110.8 L342.0 1110.8 L342.9 1110.8 L343.9 1110.7 L344.8 1110.7 L345.7 1110.7" fill="none" stroke="#2b2b2b" stroke-width="1.65" stroke-linecap="round" stroke-linejoin="round"/>
<line x1="328.3" y1="1025.9" x2="436" y2="1025.9" stroke="#000" stroke-width="2.3"/>
<path d="M447.8 1025.9 L432.8 1018.6 L432.8 1033.2 Z" fill="#000"/>
<text transform="translate(374.2 994.6) scale(1.0 1)" font-size="32" font-weight="bold" fill="#000" stroke="#000" stroke-width="0.8" stroke-linejoin="round" text-anchor="start" >Δ</text>
<text transform="translate(370.3 1067.8) scale(1.0 1)" font-size="31.5" font-weight="bold" fill="#000" stroke="#000" stroke-width="0.8" stroke-linejoin="round" text-anchor="start" >O<tspan font-size="18.5" dy="7.3" dx="0.4">2</tspan><tspan dy="-7.3" dx="0.8">​</tspan></text>
<text transform="translate(557.7 1059.0) scale(1.07 1)" font-size="29.0" font-weight="bold" text-anchor="middle" fill="#000" stroke="#000" stroke-width="0.8" stroke-linejoin="round">Si</text>
<text transform="translate(515.1 1081.5) scale(1.0 1)" font-size="31.4" font-weight="bold" text-anchor="middle" fill="#000" stroke="#000" stroke-width="0.8" stroke-linejoin="round">O</text>
<text transform="translate(595.3 1081.5) scale(1.0 1)" font-size="31.4" font-weight="bold" text-anchor="middle" fill="#000" stroke="#000" stroke-width="0.8" stroke-linejoin="round">O</text>
<text transform="translate(517.5 1130.0) scale(1.07 1)" font-size="29.0" font-weight="bold" text-anchor="middle" fill="#000" stroke="#000" stroke-width="0.8" stroke-linejoin="round">Si</text>
<text transform="translate(595.6 1130.0) scale(1.07 1)" font-size="29.0" font-weight="bold" text-anchor="middle" fill="#000" stroke="#000" stroke-width="0.8" stroke-linejoin="round">Si</text>
<text transform="translate(555.1 1151.3999999999999) scale(1.0 1)" font-size="31.4" font-weight="bold" text-anchor="middle" fill="#000" stroke="#000" stroke-width="0.8" stroke-linejoin="round">O</text>
<path d="M540.1 1055.6 L528.7 1063.4" fill="none" stroke="#2b2b2b" stroke-width="1.7" stroke-linecap="round" stroke-linejoin="round"/>
<path d="M575.5 1059.0 L582.2 1063.4" fill="none" stroke="#2b2b2b" stroke-width="1.7" stroke-linecap="round" stroke-linejoin="round"/>
<path d="M515.6 1087.9 L515.6 1103.5" fill="none" stroke="#2b2b2b" stroke-width="1.7" stroke-linecap="round" stroke-linejoin="round"/>
<path d="M595.2 1087.9 L595.2 1103.5" fill="none" stroke="#2b2b2b" stroke-width="1.7" stroke-linecap="round" stroke-linejoin="round"/>
<path d="M532.3 1127.4 L542.1 1133.5" fill="none" stroke="#2b2b2b" stroke-width="1.7" stroke-linecap="round" stroke-linejoin="round"/>
<path d="M567.4 1132.7 L578.0 1127.4" fill="none" stroke="#2b2b2b" stroke-width="1.7" stroke-linecap="round" stroke-linejoin="round"/>
<path d="M498.7 1113.3 L470.7 1105.7" fill="none" stroke="#2b2b2b" stroke-width="1.7" stroke-linecap="round" stroke-linejoin="round"/>
<path d="M501.5 1131.1 L483.0 1149.9 L437.0 1138.0" fill="none" stroke="#2b2b2b" stroke-width="1.7" stroke-linecap="round" stroke-linejoin="round"/>
<path d="M599.4 1134.0 L607.2 1162.0" fill="none" stroke="#2b2b2b" stroke-width="1.7" stroke-linecap="round" stroke-linejoin="round"/>
<path d="M612.4 1125.4 L644.3 1138.8 L678.5 1130.0" fill="none" stroke="#2b2b2b" stroke-width="1.7" stroke-linecap="round" stroke-linejoin="round"/>
<path d="M678.5 1130.0 L678.4 1131.0 L678.4 1131.9 L678.4 1132.7 L678.6 1133.4 L678.9 1134.0 L679.3 1134.4 L679.9 1134.6 L680.6 1134.7 L681.4 1134.6 L682.3 1134.5 L683.3 1134.3 L684.2 1134.1 L685.1 1133.9 L686.0 1133.8 L686.7 1133.9 L687.3 1134.1 L687.8 1134.4 L688.1 1134.9 L688.3 1135.6 L688.4 1136.4 L688.3 1137.3 L688.3 1138.3 L688.2 1139.3 L688.1 1140.2 L688.2 1141.1 L688.3 1141.8 L688.5 1142.4 L688.9 1142.8 L689.5 1143.1 L690.2 1143.2 L691.0 1143.2 L691.9 1143.1 L692.8 1142.9 L693.8 1142.7 L694.7 1142.5 L695.6 1142.4 L696.3 1142.4 L697.0 1142.5 L697.5 1142.9 L697.8 1143.3 L698.0 1144.0 L698.1 1144.8 L698.1 1145.7 L698.0 1146.6 L698.0 1147.6 L697.9 1148.5 L697.9 1149.4 L698.0 1150.2 L698.2 1150.8 L698.6 1151.3 L699.1 1151.6 L699.8 1151.7 L700.5 1151.7 L701.4 1151.6 L702.3 1151.4 L703.3 1151.2 L704.2 1151.0 L705.1 1150.9 L705.9 1150.9 L706.6 1151.0 L707.1 1151.3 L707.5 1151.8 L707.7 1152.4 L707.8 1153.1 L707.9 1154.0 L707.8 1154.9 L707.7 1155.9 L707.7 1156.9 L707.6 1157.8 L707.7 1158.6 L707.9 1159.2 L708.3 1159.7 L708.7 1160.1 L709.4 1160.2 L710.1 1160.3 L711.0 1160.2 L711.9 1160.0 L712.8 1159.8 L713.8 1159.6 L714.7 1159.5" fill="none" stroke="#2b2b2b" stroke-width="1.65" stroke-linecap="round" stroke-linejoin="round"/>
<path d="M542.1 1040.3 L516.2 1025.5 L513.2 988.0" fill="none" stroke="#2b2b2b" stroke-width="1.7" stroke-linecap="round" stroke-linejoin="round"/>
<path d="M513.2 988.0 L513.3 987.1 L513.3 986.2 L513.3 985.4 L513.2 984.7 L512.9 984.2 L512.5 983.9 L512.0 983.7 L511.3 983.7 L510.6 983.8 L509.7 984.0 L508.8 984.3 L507.9 984.6 L507.1 984.8 L506.3 985.0 L505.6 985.0 L505.0 984.9 L504.6 984.6 L504.3 984.1 L504.2 983.5 L504.1 982.7 L504.1 981.8 L504.2 980.9 L504.3 980.0 L504.4 979.1 L504.4 978.2 L504.3 977.6 L504.1 977.0 L503.7 976.6 L503.2 976.4 L502.6 976.4 L501.8 976.5 L501.0 976.7 L500.1 976.9 L499.2 977.2 L498.3 977.5 L497.5 977.6 L496.8 977.7 L496.2 977.6 L495.7 977.3 L495.4 976.9 L495.2 976.3 L495.2 975.6 L495.2 974.7 L495.3 973.8 L495.4 972.9 L495.4 972.0 L495.5 971.1 L495.4 970.4 L495.2 969.8 L494.8 969.4 L494.4 969.2 L493.8 969.1 L493.0 969.1 L492.2 969.3 L491.3 969.6 L490.4 969.9 L489.6 970.1 L488.7 970.3 L488.0 970.4 L487.4 970.3 L486.9 970.1 L486.5 969.7 L486.3 969.2 L486.2 968.4 L486.2 967.6 L486.3 966.7 L486.4 965.8 L486.5 964.8 L486.5 964.0 L486.5 963.2 L486.3 962.6 L486.0 962.2 L485.5 961.9 L485.0 961.8 L484.3 961.8 L483.5 962.0 L482.6 962.2 L481.7 962.5 L480.8 962.8 L480.0 963.0" fill="none" stroke="#2b2b2b" stroke-width="1.65" stroke-linecap="round" stroke-linejoin="round"/>
<path d="M574.9 1043.4 L584.6 1035.1" fill="none" stroke="#2b2b2b" stroke-width="1.7" stroke-linecap="round" stroke-linejoin="round"/>
<text transform="translate(599.4 1035.2) scale(1.0 1)" font-size="31.4" font-weight="bold" text-anchor="middle" fill="#000" stroke="#000" stroke-width="0.8" stroke-linejoin="round">O</text>
<path d="M612.4 1026.6 L632.8 1029.9" fill="none" stroke="#2b2b2b" stroke-width="1.7" stroke-linecap="round" stroke-linejoin="round"/>
<text transform="translate(706.7 975.3) scale(1.07 1)" font-size="29.0" font-weight="bold" text-anchor="middle" fill="#000" stroke="#000" stroke-width="0.8" stroke-linejoin="round">Si</text>
<text transform="translate(663.3 1000.0) scale(1.0 1)" font-size="31.4" font-weight="bold" text-anchor="middle" fill="#000" stroke="#000" stroke-width="0.8" stroke-linejoin="round">O</text>
<text transform="translate(742.3 1000.0) scale(1.0 1)" font-size="31.4" font-weight="bold" text-anchor="middle" fill="#000" stroke="#000" stroke-width="0.8" stroke-linejoin="round">O</text>
<text transform="translate(652.1 1045.5) scale(1.07 1)" font-size="29.0" font-weight="bold" text-anchor="middle" fill="#000" stroke="#000" stroke-width="0.8" stroke-linejoin="round">Si</text>
<text transform="translate(744.8 1045.5) scale(1.07 1)" font-size="29.0" font-weight="bold" text-anchor="middle" fill="#000" stroke="#000" stroke-width="0.8" stroke-linejoin="round">Si</text>
<text transform="translate(702.2 1067.8999999999999) scale(1.0 1)" font-size="31.4" font-weight="bold" text-anchor="middle" fill="#000" stroke="#000" stroke-width="0.8" stroke-linejoin="round">O</text>
<path d="M687.4 972.1 L673.9 979.6" fill="none" stroke="#2b2b2b" stroke-width="1.7" stroke-linecap="round" stroke-linejoin="round"/>
<path d="M722.2 976.0 L729.0 980.3" fill="none" stroke="#2b2b2b" stroke-width="1.7" stroke-linecap="round" stroke-linejoin="round"/>
<path d="M661.4 1004.9 L661.4 1020.2" fill="none" stroke="#2b2b2b" stroke-width="1.7" stroke-linecap="round" stroke-linejoin="round"/>
<path d="M742.1 1004.9 L742.1 1020.2" fill="none" stroke="#2b2b2b" stroke-width="1.7" stroke-linecap="round" stroke-linejoin="round"/>
<path d="M668.4 1038.5 L688.2 1050.5" fill="none" stroke="#2b2b2b" stroke-width="1.7" stroke-linecap="round" stroke-linejoin="round"/>
<path d="M714.0 1049.9 L724.6 1044.7" fill="none" stroke="#2b2b2b" stroke-width="1.7" stroke-linecap="round" stroke-linejoin="round"/>
<path d="M722.2 959.3 L744.1 941.2" fill="none" stroke="#2b2b2b" stroke-width="1.7" stroke-linecap="round" stroke-linejoin="round"/>
<path d="M691.0 953.7 L668.4 931.2 L624.7 942.8" fill="none" stroke="#2b2b2b" stroke-width="1.7" stroke-linecap="round" stroke-linejoin="round"/>
<path d="M624.7 942.8 L625.0 941.9 L625.3 941.0 L625.5 940.3 L625.5 939.6 L625.4 939.0 L625.1 938.5 L624.6 938.2 L623.9 938.0 L623.1 937.9 L622.3 937.9 L621.3 937.9 L620.4 937.9 L619.4 937.9 L618.6 937.8 L617.9 937.7 L617.4 937.4 L617.1 936.9 L616.9 936.4 L616.9 935.7 L617.1 935.0 L617.3 934.1 L617.6 933.2 L618.0 932.3 L618.2 931.5 L618.4 930.6 L618.5 929.9 L618.4 929.3 L618.2 928.9 L617.7 928.5 L617.1 928.3 L616.3 928.2 L615.5 928.1 L614.5 928.1 L613.6 928.1 L612.6 928.1 L611.8 928.1 L611.1 927.9 L610.5 927.7 L610.1 927.3 L609.9 926.8 L609.9 926.1 L610.0 925.4 L610.3 924.5 L610.6 923.6 L610.9 922.7 L611.2 921.9 L611.4 921.0 L611.5 920.3 L611.5 919.7 L611.2 919.2 L610.8 918.8 L610.2 918.5 L609.5 918.4 L608.7 918.3 L607.7 918.3 L606.8 918.4 L605.8 918.4 L605.0 918.3 L604.2 918.2 L603.6 918.0 L603.2 917.6 L603.0 917.1 L602.9 916.5 L603.0 915.8 L603.2 914.9 L603.5 914.1 L603.8 913.2 L604.1 912.3 L604.4 911.4 L604.5 910.7 L604.5 910.0 L604.3 909.5 L603.9 909.1 L603.4 908.8 L602.7 908.6 L601.9 908.6 L600.9 908.6 L600.0 908.6 L599.0 908.6 L598.2 908.6" fill="none" stroke="#2b2b2b" stroke-width="1.65" stroke-linecap="round" stroke-linejoin="round"/>
<path d="M642.6 1053.3 L628.6 1067.4" fill="none" stroke="#2b2b2b" stroke-width="1.7" stroke-linecap="round" stroke-linejoin="round"/>
<path d="M746.4 1051.0 L754.0 1079.2" fill="none" stroke="#2b2b2b" stroke-width="1.7" stroke-linecap="round" stroke-linejoin="round"/>
<path d="M759.7 1042.4 L791.1 1057.3 L825.4 1045.8" fill="none" stroke="#2b2b2b" stroke-width="1.7" stroke-linecap="round" stroke-linejoin="round"/>
<path d="M825.4 1045.8 L825.3 1046.8 L825.3 1047.7 L825.4 1048.6 L825.6 1049.3 L825.9 1049.8 L826.3 1050.2 L826.9 1050.5 L827.6 1050.5 L828.5 1050.5 L829.4 1050.3 L830.3 1050.1 L831.3 1049.9 L832.2 1049.8 L833.1 1049.7 L833.8 1049.7 L834.5 1049.9 L834.9 1050.3 L835.3 1050.8 L835.5 1051.5 L835.6 1052.3 L835.6 1053.2 L835.5 1054.2 L835.5 1055.2 L835.4 1056.1 L835.5 1057.0 L835.6 1057.7 L835.9 1058.3 L836.3 1058.8 L836.9 1059.0 L837.6 1059.1 L838.4 1059.1 L839.3 1059.0 L840.2 1058.8 L841.2 1058.6 L842.1 1058.4 L843.0 1058.3 L843.8 1058.3 L844.4 1058.5 L845.0 1058.8 L845.3 1059.3 L845.6 1059.9 L845.7 1060.7 L845.7 1061.6 L845.6 1062.6 L845.6 1063.6 L845.6 1064.5 L845.6 1065.4 L845.7 1066.2 L846.0 1066.8 L846.3 1067.3 L846.9 1067.6 L847.5 1067.7 L848.3 1067.7 L849.2 1067.6 L850.1 1067.4 L851.1 1067.2 L852.1 1067.0 L852.9 1066.9 L853.7 1066.9 L854.4 1067.0 L855.0 1067.3 L855.4 1067.8 L855.6 1068.4 L855.8 1069.1 L855.8 1070.0 L855.8 1071.0 L855.7 1072.0 L855.7 1072.9 L855.7 1073.8 L855.8 1074.6 L856.0 1075.3 L856.3 1075.8 L856.8 1076.2 L857.5 1076.3 L858.2 1076.4 L859.1 1076.3 L860.0 1076.1 L861.0 1075.9 L862.0 1075.7 L862.9 1075.5" fill="none" stroke="#2b2b2b" stroke-width="1.65" stroke-linecap="round" stroke-linejoin="round"/>
<text transform="translate(898.0 1036.9) scale(1.05 1)" font-size="29.5" font-weight="bold" fill="#000" stroke="#000" stroke-width="0.8" stroke-linejoin="round" text-anchor="start" >+</text>
<text transform="translate(960.2 1039.0) scale(0.965 1)" font-size="31.5" font-weight="bold" fill="#000" stroke="#000" stroke-width="0.8" stroke-linejoin="round" text-anchor="start" >C<tspan font-size="17.5" dy="6.5" dx="-0.8">x</tspan><tspan dy="-6.5" dx="0.8">H</tspan><tspan font-size="17.5" dy="6.5" dx="1.4">y</tspan></text>
</svg>
</body>
</html>
